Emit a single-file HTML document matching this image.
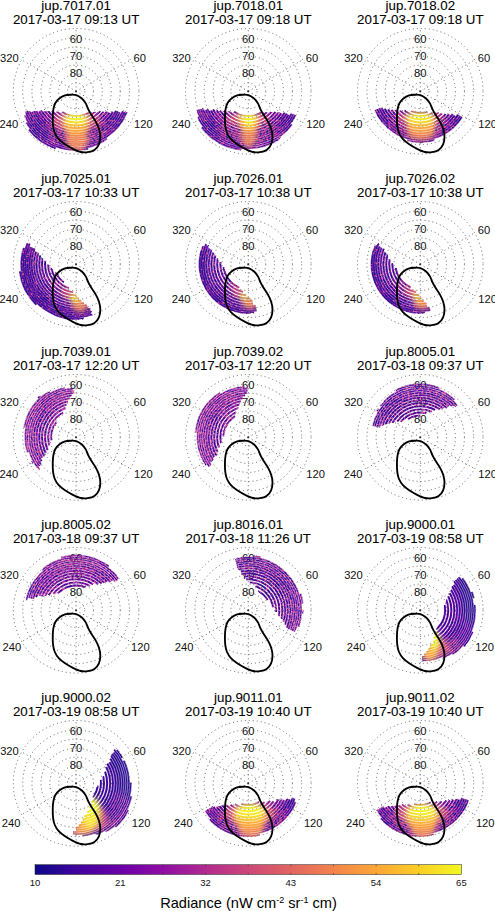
<!DOCTYPE html><html><head><meta charset="utf-8"><style>
html,body{margin:0;padding:0;background:#fff;}
svg{display:block;font-family:"Liberation Sans",sans-serif;}
.grid circle,.grid line{fill:none;stroke:#666;stroke-width:1;stroke-dasharray:1 3;}
.lab text{font-size:11.2px;fill:#111;}
.tt{font-size:13.3px;text-anchor:middle;fill:#000;stroke:#000;stroke-width:0.08px;}
.cbl{font-size:9.5px;text-anchor:middle;fill:#111;}
.cbt{font-size:14.6px;text-anchor:middle;fill:#000;}
</style></head><body>
<svg width="495" height="911" viewBox="0 0 495 911">
<defs>
<filter id="nzB" x="0" y="0" width="1" height="1" color-interpolation-filters="sRGB"><feTurbulence type="fractalNoise" baseFrequency="0.45" numOctaves="2" seed="3"/><feColorMatrix type="matrix" values="0 0 0 0 0.16  0 0 0 0 0.03  0 0 0 0 0.55  5 0 0 0 -2.2"/></filter>
<filter id="nzM" x="0" y="0" width="1" height="1" color-interpolation-filters="sRGB"><feTurbulence type="fractalNoise" baseFrequency="0.45" numOctaves="2" seed="11"/><feColorMatrix type="matrix" values="0 0 0 0 0.85  0 0 0 0 0.28  0 0 0 0 0.5  5 0 0 0 -2.9"/></filter>
<filter id="nzP" x="0" y="0" width="1" height="1" color-interpolation-filters="sRGB"><feTurbulence type="fractalNoise" baseFrequency="0.5" numOctaves="2" seed="23"/><feColorMatrix type="matrix" values="0 0 0 0 0.8  0 0 0 0 0.27  0 0 0 0 0.65  5 0 0 0 -2.35"/></filter>
<filter id="bl" x="-50%" y="-50%" width="200%" height="200%"><feGaussianBlur stdDeviation="2.5"/></filter></defs>
<rect width="495" height="911" fill="#fff"/>
<g class="grid"><circle cx="76.10" cy="91.30" r="8.70"/><circle cx="76.10" cy="91.30" r="17.43"/><circle cx="76.10" cy="91.30" r="26.22"/><circle cx="76.10" cy="91.30" r="35.12"/><circle cx="76.10" cy="91.30" r="44.16"/><circle cx="76.10" cy="91.30" r="53.37"/><circle cx="76.10" cy="91.30" r="62.80"/><line x1="76.10" y1="91.30" x2="76.10" y2="28.50"/><line x1="76.10" y1="91.30" x2="130.49" y2="59.90"/><line x1="76.10" y1="91.30" x2="130.49" y2="122.70"/><line x1="76.10" y1="91.30" x2="76.10" y2="154.10"/><line x1="76.10" y1="91.30" x2="21.71" y2="122.70"/><line x1="76.10" y1="91.30" x2="21.71" y2="59.90"/></g>
<circle cx="76.10" cy="91.30" r="0.9" fill="#333"/>
<g class="lab">
<text x="76.10" y="43.20" text-anchor="middle">60</text>
<text x="76.10" y="60.10" text-anchor="middle">70</text>
<text x="76.10" y="77.20" text-anchor="middle">80</text>
<text x="133.60" y="61.70" text-anchor="start">60</text>
<text x="134.00" y="128.30" text-anchor="start">120</text>
<text x="18.20" y="128.30" text-anchor="end">240</text>
<text x="18.60" y="61.70" text-anchor="end">320</text>
</g>
<clipPath id="c0"><path d="M90.5,113.4A26.4,26.4 0 0 1 61.5,113.3L63.2,110.7A23.3,23.3 0 0 0 88.8,110.8ZM96.4,112.7A29.5,29.5 0 0 1 55.6,112.5L57.8,110.3A26.4,26.4 0 0 0 94.3,110.4ZM101.3,112.0A32.6,32.6 0 0 1 50.8,111.8L53.2,109.9A29.5,29.5 0 0 0 98.9,110.1ZM104.9,112.2A35.5,35.5 0 0 1 47.2,111.9L49.6,110.2A32.6,32.6 0 0 0 102.5,110.5ZM108.4,111.9A38.3,38.3 0 0 1 43.6,111.6L46.0,110.1A35.5,35.5 0 0 0 106.1,110.4ZM110.6,113.3A40.9,40.9 0 0 1 40.2,110.8L42.4,109.6A38.3,38.3 0 0 0 108.4,111.9ZM114.0,112.3A43.3,43.3 0 0 1 38.0,112.0L40.2,110.8A40.9,40.9 0 0 0 111.9,111.1ZM117.3,110.9A45.6,45.6 0 0 1 34.8,110.6L36.8,109.6A43.3,43.3 0 0 0 115.2,110.0ZM119.2,111.9A47.8,47.8 0 0 1 32.8,111.5L34.8,110.6A45.6,45.6 0 0 0 117.3,110.9ZM121.0,112.7A49.8,49.8 0 0 1 31.0,112.3L32.8,111.5A47.8,47.8 0 0 0 119.2,111.9ZM124.1,110.7A51.8,51.8 0 0 1 27.9,110.3L29.8,109.5A49.8,49.8 0 0 0 122.3,109.9ZM126.0,111.4A53.8,53.8 0 0 1 26.1,111.0L27.9,110.3A51.8,51.8 0 0 0 124.1,110.7ZM127.8,112.2A55.8,55.8 0 0 1 24.2,111.7L26.1,111.0A53.8,53.8 0 0 0 126.0,111.4ZM107.6,139.8A57.8,57.8 0 0 1 23.7,115.7L25.6,114.9A55.8,55.8 0 0 0 106.5,138.1ZM88.5,149.8A59.8,59.8 0 0 1 25.4,123.0L27.1,121.9A57.8,57.8 0 0 0 88.1,147.8ZM55.5,149.5A61.8,61.8 0 0 1 28.1,130.2L29.6,128.9A59.8,59.8 0 0 0 56.1,147.6Z"/></clipPath>
<mask id="m0" maskUnits="userSpaceOnUse" x="23.3" y="108.9" width="106.0" height="44.1"><rect x="23.3" y="108.9" width="106.0" height="44.1" fill="#fff"/><g fill="none" stroke="#181818"><circle cx="76.10" cy="91.30" r="14.00" stroke-width="1.20"/><circle cx="76.10" cy="91.30" r="17.10" stroke-width="1.20"/><circle cx="76.10" cy="91.30" r="20.20" stroke-width="1.20"/><circle cx="76.10" cy="91.30" r="23.30" stroke-width="1.20"/><circle cx="76.10" cy="91.30" r="26.40" stroke-width="1.20"/><circle cx="76.10" cy="91.30" r="29.50" stroke-width="1.20"/><circle cx="76.10" cy="91.30" r="32.60" stroke-width="1.04"/><circle cx="76.10" cy="91.30" r="35.54" stroke-width="0.86"/><circle cx="76.10" cy="91.30" r="38.30" stroke-width="0.69"/><circle cx="76.10" cy="91.30" r="40.90" stroke-width="0.53"/><circle cx="76.10" cy="91.30" r="43.33" stroke-width="0.39"/><circle cx="76.10" cy="91.30" r="45.61" stroke-width="0.35"/><circle cx="76.10" cy="91.30" r="47.76" stroke-width="0.35"/><circle cx="76.10" cy="91.30" r="49.78" stroke-width="0.35"/><circle cx="76.10" cy="91.30" r="51.78" stroke-width="0.35"/><circle cx="76.10" cy="91.30" r="53.78" stroke-width="0.35"/><circle cx="76.10" cy="91.30" r="55.78" stroke-width="0.35"/><circle cx="76.10" cy="91.30" r="57.78" stroke-width="0.35"/><circle cx="76.10" cy="91.30" r="59.78" stroke-width="0.35"/><circle cx="76.10" cy="91.30" r="61.78" stroke-width="0.35"/><circle cx="76.10" cy="91.30" r="63.78" stroke-width="0.35"/><circle cx="76.10" cy="91.30" r="65.78" stroke-width="0.35"/><circle cx="76.10" cy="91.30" r="67.78" stroke-width="0.35"/><circle cx="76.10" cy="91.30" r="69.78" stroke-width="0.35"/></g></mask>
<g clip-path="url(#c0)"><g mask="url(#m0)">
<polygon points="25.5,111.2 40.0,111.0 55.0,111.6 66.0,112.8 76.0,113.6 86.0,112.6 100.6,111.5 111.5,111.5 122.4,110.9 127.3,112.7 124.8,118.2 120.0,125.5 113.9,132.7 105.5,140.0 95.8,146.1 86.1,149.7 76.0,151.0 67.6,150.7 57.0,149.0 47.9,146.0 40.0,142.5 34.7,138.2 30.0,132.0 27.5,126.3 25.3,118.0" fill="#8f0da4"/>
<g filter="url(#bl)">
<ellipse cx="38.0" cy="132.0" rx="14.0" ry="12.0" fill="#41049d" opacity="0.80"/>
<ellipse cx="116.0" cy="122.0" rx="11.0" ry="10.0" fill="#41049d" opacity="0.70"/>
<ellipse cx="60.0" cy="147.0" rx="16.0" ry="5.0" fill="#6a00a8" opacity="0.70"/>
<ellipse cx="98.0" cy="144.0" rx="10.0" ry="6.0" fill="#6a00a8" opacity="0.70"/>
<ellipse cx="76.0" cy="128.0" rx="30.0" ry="16.0" fill="#b12a90" opacity="0.90"/>
</g>
<rect x="23.3" y="108.9" width="106.0" height="44.1" filter="url(#nzB)"/>
<rect x="23.3" y="108.9" width="106.0" height="44.1" filter="url(#nzM)"/>
<g filter="url(#bl)">
<ellipse cx="76.0" cy="121.0" rx="24.0" ry="9.0" fill="#d9506e" opacity="0.90"/>
<ellipse cx="77.0" cy="139.0" rx="11.0" ry="12.0" fill="#f2844b" opacity="0.95"/>
<ellipse cx="76.0" cy="126.0" rx="13.0" ry="9.0" fill="#fca636" opacity="1.00"/>
<ellipse cx="76.0" cy="119.0" rx="12.0" ry="6.0" fill="#f6e52c" opacity="1.00"/>
<ellipse cx="75.0" cy="117.0" rx="9.0" ry="4.0" fill="#f0f921" opacity="1.00"/>
</g>
</g></g>
<path d="M70.60,94.75 C68.72,94.80 66.88,94.77 65.00,95.40 C63.12,96.02 60.91,97.23 59.30,98.50 C57.69,99.77 56.33,101.22 55.35,103.00 C54.37,104.78 53.83,106.84 53.40,109.20 C52.97,111.56 52.80,114.32 52.75,117.15 C52.70,119.98 52.76,123.56 53.10,126.20 C53.44,128.84 53.86,130.83 54.80,133.00 C55.74,135.17 57.05,137.32 58.75,139.20 C60.45,141.08 62.64,142.70 65.00,144.30 C67.36,145.90 70.27,147.52 72.90,148.80 C75.53,150.08 78.35,151.43 80.80,152.00 C83.25,152.57 85.33,152.53 87.60,152.20 C89.87,151.87 92.52,151.32 94.40,150.00 C96.28,148.68 97.92,146.57 98.90,144.30 C99.88,142.03 100.30,139.03 100.30,136.40 C100.30,133.77 99.70,131.05 98.90,128.50 C98.10,125.95 96.82,123.47 95.50,121.10 C94.18,118.73 92.22,116.28 91.00,114.30 C89.78,112.32 89.05,110.98 88.20,109.20 C87.35,107.42 86.95,105.38 85.90,103.60 C84.85,101.82 83.50,99.92 81.90,98.50 C80.30,97.08 78.18,95.72 76.30,95.10 C74.42,94.47 72.48,94.70 70.60,94.75Z" fill="none" stroke="#000" stroke-width="1.85"/>
<text class="tt" x="76.10" y="9.70">jup.7017.01</text>
<text class="tt" x="76.10" y="24.40">2017-03-17 09:13 UT</text>
<g class="grid"><circle cx="248.30" cy="91.30" r="8.70"/><circle cx="248.30" cy="91.30" r="17.43"/><circle cx="248.30" cy="91.30" r="26.22"/><circle cx="248.30" cy="91.30" r="35.12"/><circle cx="248.30" cy="91.30" r="44.16"/><circle cx="248.30" cy="91.30" r="53.37"/><circle cx="248.30" cy="91.30" r="62.80"/><line x1="248.30" y1="91.30" x2="248.30" y2="28.50"/><line x1="248.30" y1="91.30" x2="302.69" y2="59.90"/><line x1="248.30" y1="91.30" x2="302.69" y2="122.70"/><line x1="248.30" y1="91.30" x2="248.30" y2="154.10"/><line x1="248.30" y1="91.30" x2="193.91" y2="122.70"/><line x1="248.30" y1="91.30" x2="193.91" y2="59.90"/></g>
<circle cx="248.30" cy="91.30" r="0.9" fill="#333"/>
<g class="lab">
<text x="248.30" y="43.20" text-anchor="middle">60</text>
<text x="248.30" y="60.10" text-anchor="middle">70</text>
<text x="248.30" y="77.20" text-anchor="middle">80</text>
<text x="305.80" y="61.70" text-anchor="start">60</text>
<text x="306.20" y="128.30" text-anchor="start">120</text>
<text x="190.40" y="128.30" text-anchor="end">240</text>
<text x="190.80" y="61.70" text-anchor="end">320</text>
</g>
<clipPath id="c1"><path d="M262.2,113.8A26.4,26.4 0 0 1 233.2,113.0L235.0,110.4A23.3,23.3 0 0 0 260.5,111.1ZM268.1,113.2A29.5,29.5 0 0 1 227.3,112.1L229.5,109.9A26.4,26.4 0 0 0 266.0,110.9ZM273.0,112.6A32.6,32.6 0 0 1 222.5,111.2L225.0,109.3A29.5,29.5 0 0 0 270.6,110.6ZM276.6,112.8A35.5,35.5 0 0 1 218.9,111.3L221.3,109.6A32.6,32.6 0 0 0 274.2,111.1ZM280.1,112.6A38.3,38.3 0 0 1 215.4,110.9L217.7,109.4A35.5,35.5 0 0 0 277.8,111.1ZM282.3,114.0A40.9,40.9 0 0 1 211.9,110.0L214.2,108.8A38.3,38.3 0 0 0 280.1,112.6ZM285.7,113.2A43.3,43.3 0 0 1 209.8,111.1L211.9,110.0A40.9,40.9 0 0 0 283.6,111.9ZM287.7,114.3A45.6,45.6 0 0 1 206.5,109.6L208.6,108.7A43.3,43.3 0 0 0 285.7,113.2ZM289.5,115.4A47.8,47.8 0 0 1 204.6,110.5L206.5,109.6A45.6,45.6 0 0 0 287.7,114.3ZM292.7,113.7A49.8,49.8 0 0 1 201.6,108.5L203.5,107.8A47.8,47.8 0 0 0 290.9,112.8ZM294.5,114.6A51.8,51.8 0 0 1 199.7,109.2L201.6,108.5A49.8,49.8 0 0 0 292.7,113.7ZM296.3,115.5A53.8,53.8 0 0 1 197.8,109.9L199.7,109.2A51.8,51.8 0 0 0 294.5,114.6ZM292.7,125.1A55.8,55.8 0 0 1 196.0,110.6L197.8,109.9A53.8,53.8 0 0 0 291.1,123.9ZM281.6,138.5A57.8,57.8 0 0 1 196.9,117.7L198.7,116.8A55.8,55.8 0 0 0 280.5,136.9ZM241.2,150.7A59.8,59.8 0 0 1 201.0,127.9L202.6,126.6A57.8,57.8 0 0 0 241.5,148.7Z"/></clipPath>
<mask id="m1" maskUnits="userSpaceOnUse" x="194.8" y="106.5" width="103.9" height="45.2"><rect x="194.8" y="106.5" width="103.9" height="45.2" fill="#fff"/><g fill="none" stroke="#181818"><circle cx="248.30" cy="91.30" r="14.00" stroke-width="1.20"/><circle cx="248.30" cy="91.30" r="17.10" stroke-width="1.20"/><circle cx="248.30" cy="91.30" r="20.20" stroke-width="1.20"/><circle cx="248.30" cy="91.30" r="23.30" stroke-width="1.20"/><circle cx="248.30" cy="91.30" r="26.40" stroke-width="1.20"/><circle cx="248.30" cy="91.30" r="29.50" stroke-width="1.20"/><circle cx="248.30" cy="91.30" r="32.60" stroke-width="1.04"/><circle cx="248.30" cy="91.30" r="35.54" stroke-width="0.86"/><circle cx="248.30" cy="91.30" r="38.30" stroke-width="0.69"/><circle cx="248.30" cy="91.30" r="40.90" stroke-width="0.53"/><circle cx="248.30" cy="91.30" r="43.33" stroke-width="0.39"/><circle cx="248.30" cy="91.30" r="45.61" stroke-width="0.35"/><circle cx="248.30" cy="91.30" r="47.76" stroke-width="0.35"/><circle cx="248.30" cy="91.30" r="49.78" stroke-width="0.35"/><circle cx="248.30" cy="91.30" r="51.78" stroke-width="0.35"/><circle cx="248.30" cy="91.30" r="53.78" stroke-width="0.35"/><circle cx="248.30" cy="91.30" r="55.78" stroke-width="0.35"/><circle cx="248.30" cy="91.30" r="57.78" stroke-width="0.35"/><circle cx="248.30" cy="91.30" r="59.78" stroke-width="0.35"/><circle cx="248.30" cy="91.30" r="61.78" stroke-width="0.35"/><circle cx="248.30" cy="91.30" r="63.78" stroke-width="0.35"/><circle cx="248.30" cy="91.30" r="65.78" stroke-width="0.35"/><circle cx="248.30" cy="91.30" r="67.78" stroke-width="0.35"/><circle cx="248.30" cy="91.30" r="69.78" stroke-width="0.35"/></g></mask>
<g clip-path="url(#c1)"><g mask="url(#m1)">
<polygon points="196.8,108.5 209.4,109.7 223.9,110.9 236.1,111.5 247.0,114.0 260.3,112.1 274.8,112.1 287.0,113.3 296.7,114.5 295.5,118.2 289.4,129.1 279.7,138.8 267.6,146.1 253.0,149.7 238.5,149.7 223.9,146.1 211.8,138.8 202.1,127.9 197.3,117.0" fill="#8f0da4"/>
<g filter="url(#bl)">
<ellipse cx="208.0" cy="130.0" rx="12.0" ry="12.0" fill="#41049d" opacity="0.80"/>
<ellipse cx="288.0" cy="122.0" rx="10.0" ry="10.0" fill="#41049d" opacity="0.70"/>
<ellipse cx="230.0" cy="147.0" rx="15.0" ry="5.0" fill="#6a00a8" opacity="0.70"/>
<ellipse cx="270.0" cy="144.0" rx="10.0" ry="6.0" fill="#6a00a8" opacity="0.70"/>
<ellipse cx="248.0" cy="128.0" rx="30.0" ry="14.0" fill="#b12a90" opacity="0.90"/>
</g>
<rect x="194.8" y="106.5" width="103.9" height="45.2" filter="url(#nzB)"/>
<rect x="194.8" y="106.5" width="103.9" height="45.2" filter="url(#nzM)"/>
<g filter="url(#bl)">
<ellipse cx="248.0" cy="119.0" rx="22.0" ry="7.0" fill="#d9506e" opacity="0.80"/>
<ellipse cx="249.0" cy="136.0" rx="8.0" ry="11.0" fill="#f2844b" opacity="0.90"/>
<ellipse cx="249.0" cy="124.0" rx="10.0" ry="8.0" fill="#fca636" opacity="1.00"/>
<ellipse cx="248.0" cy="117.0" rx="10.0" ry="4.0" fill="#f6e52c" opacity="1.00"/>
<ellipse cx="249.0" cy="121.0" rx="4.0" ry="6.0" fill="#f0f921" opacity="1.00"/>
</g>
</g></g>
<path d="M242.80,94.75 C240.92,94.80 239.08,94.77 237.20,95.40 C235.32,96.02 233.11,97.23 231.50,98.50 C229.89,99.77 228.53,101.22 227.55,103.00 C226.57,104.78 226.03,106.84 225.60,109.20 C225.17,111.56 225.00,114.32 224.95,117.15 C224.90,119.98 224.96,123.56 225.30,126.20 C225.64,128.84 226.06,130.83 227.00,133.00 C227.94,135.17 229.25,137.32 230.95,139.20 C232.65,141.08 234.84,142.70 237.20,144.30 C239.56,145.90 242.47,147.52 245.10,148.80 C247.73,150.08 250.55,151.43 253.00,152.00 C255.45,152.57 257.53,152.53 259.80,152.20 C262.07,151.87 264.72,151.32 266.60,150.00 C268.48,148.68 270.12,146.57 271.10,144.30 C272.08,142.03 272.50,139.03 272.50,136.40 C272.50,133.77 271.90,131.05 271.10,128.50 C270.30,125.95 269.02,123.47 267.70,121.10 C266.38,118.73 264.42,116.28 263.20,114.30 C261.98,112.32 261.25,110.98 260.40,109.20 C259.55,107.42 259.15,105.38 258.10,103.60 C257.05,101.82 255.70,99.92 254.10,98.50 C252.50,97.08 250.38,95.72 248.50,95.10 C246.62,94.47 244.68,94.70 242.80,94.75Z" fill="none" stroke="#000" stroke-width="1.85"/>
<text class="tt" x="248.30" y="9.70">jup.7018.01</text>
<text class="tt" x="248.30" y="24.40">2017-03-17 09:18 UT</text>
<g class="grid"><circle cx="420.30" cy="91.30" r="8.70"/><circle cx="420.30" cy="91.30" r="17.43"/><circle cx="420.30" cy="91.30" r="26.22"/><circle cx="420.30" cy="91.30" r="35.12"/><circle cx="420.30" cy="91.30" r="44.16"/><circle cx="420.30" cy="91.30" r="53.37"/><circle cx="420.30" cy="91.30" r="62.80"/><line x1="420.30" y1="91.30" x2="420.30" y2="28.50"/><line x1="420.30" y1="91.30" x2="474.69" y2="59.90"/><line x1="420.30" y1="91.30" x2="474.69" y2="122.70"/><line x1="420.30" y1="91.30" x2="420.30" y2="154.10"/><line x1="420.30" y1="91.30" x2="365.91" y2="122.70"/><line x1="420.30" y1="91.30" x2="365.91" y2="59.90"/></g>
<circle cx="420.30" cy="91.30" r="0.9" fill="#333"/>
<g class="lab">
<text x="420.30" y="43.20" text-anchor="middle">60</text>
<text x="420.30" y="60.10" text-anchor="middle">70</text>
<text x="420.30" y="77.20" text-anchor="middle">80</text>
<text x="477.80" y="61.70" text-anchor="start">60</text>
<text x="478.20" y="128.30" text-anchor="start">120</text>
<text x="362.40" y="128.30" text-anchor="end">240</text>
<text x="362.80" y="61.70" text-anchor="end">320</text>
</g>
<clipPath id="c2"><path d="M428.2,113.2A23.3,23.3 0 0 1 410.2,112.3L411.6,109.5A20.2,20.2 0 0 0 427.2,110.3ZM433.7,114.1A26.4,26.4 0 0 1 403.5,111.6L405.4,109.3A23.3,23.3 0 0 0 432.1,111.4ZM439.6,113.6A29.5,29.5 0 0 1 398.9,111.6L401.1,109.4A26.4,26.4 0 0 0 437.6,111.3ZM443.1,114.6A32.6,32.6 0 0 1 394.1,110.6L396.6,108.8A29.5,29.5 0 0 0 440.9,112.4ZM446.7,115.1A35.5,35.5 0 0 1 390.5,110.6L392.9,109.0A32.6,32.6 0 0 0 444.5,113.2ZM450.2,115.2A38.3,38.3 0 0 1 386.9,110.1L389.3,108.7A35.5,35.5 0 0 0 448.1,113.5ZM453.8,114.8A40.9,40.9 0 0 1 383.5,109.2L385.8,108.0A38.3,38.3 0 0 0 451.6,113.3ZM455.7,116.2A43.3,43.3 0 0 1 380.2,107.8L382.5,106.9A40.9,40.9 0 0 0 453.8,114.8ZM459.2,115.2A45.6,45.6 0 0 1 378.1,108.7L380.2,107.8A43.3,43.3 0 0 0 457.2,114.0ZM461.0,116.3A47.8,47.8 0 0 1 376.1,109.5L378.1,108.7A45.6,45.6 0 0 0 459.2,115.2ZM462.7,117.4A49.8,49.8 0 0 1 374.3,110.3L376.1,109.5A47.8,47.8 0 0 0 461.0,116.3ZM434.9,141.0A51.8,51.8 0 0 1 406.8,141.3L407.3,139.4A49.8,49.8 0 0 0 434.4,139.0Z"/></clipPath>
<mask id="m2" maskUnits="userSpaceOnUse" x="373.0" y="105.8" width="91.8" height="38.9"><rect x="373.0" y="105.8" width="91.8" height="38.9" fill="#fff"/><g fill="none" stroke="#181818"><circle cx="420.30" cy="91.30" r="14.00" stroke-width="1.20"/><circle cx="420.30" cy="91.30" r="17.10" stroke-width="1.20"/><circle cx="420.30" cy="91.30" r="20.20" stroke-width="1.20"/><circle cx="420.30" cy="91.30" r="23.30" stroke-width="1.20"/><circle cx="420.30" cy="91.30" r="26.40" stroke-width="1.20"/><circle cx="420.30" cy="91.30" r="29.50" stroke-width="1.20"/><circle cx="420.30" cy="91.30" r="32.60" stroke-width="1.04"/><circle cx="420.30" cy="91.30" r="35.54" stroke-width="0.86"/><circle cx="420.30" cy="91.30" r="38.30" stroke-width="0.69"/><circle cx="420.30" cy="91.30" r="40.90" stroke-width="0.53"/><circle cx="420.30" cy="91.30" r="43.33" stroke-width="0.39"/><circle cx="420.30" cy="91.30" r="45.61" stroke-width="0.35"/><circle cx="420.30" cy="91.30" r="47.76" stroke-width="0.35"/><circle cx="420.30" cy="91.30" r="49.78" stroke-width="0.35"/><circle cx="420.30" cy="91.30" r="51.78" stroke-width="0.35"/><circle cx="420.30" cy="91.30" r="53.78" stroke-width="0.35"/><circle cx="420.30" cy="91.30" r="55.78" stroke-width="0.35"/><circle cx="420.30" cy="91.30" r="57.78" stroke-width="0.35"/><circle cx="420.30" cy="91.30" r="59.78" stroke-width="0.35"/><circle cx="420.30" cy="91.30" r="61.78" stroke-width="0.35"/><circle cx="420.30" cy="91.30" r="63.78" stroke-width="0.35"/><circle cx="420.30" cy="91.30" r="65.78" stroke-width="0.35"/><circle cx="420.30" cy="91.30" r="67.78" stroke-width="0.35"/><circle cx="420.30" cy="91.30" r="69.78" stroke-width="0.35"/></g></mask>
<g clip-path="url(#c2)"><g mask="url(#m2)">
<polygon points="375.0,107.8 387.2,108.9 398.3,110.0 410.6,111.1 420.6,111.1 431.7,112.2 442.8,113.3 453.9,114.4 462.8,115.6 461.7,120.0 453.9,128.9 442.8,136.7 431.7,141.1 420.6,142.7 409.4,141.1 398.3,136.7 387.2,127.8 378.3,117.8 375.0,111.1" fill="#8f0da4"/>
<g filter="url(#bl)">
<ellipse cx="382.0" cy="115.0" rx="9.0" ry="8.0" fill="#41049d" opacity="0.70"/>
<ellipse cx="458.0" cy="118.0" rx="8.0" ry="7.0" fill="#41049d" opacity="0.80"/>
<ellipse cx="420.0" cy="141.0" rx="18.0" ry="4.0" fill="#6a00a8" opacity="0.60"/>
<ellipse cx="420.0" cy="126.0" rx="28.0" ry="12.0" fill="#b12a90" opacity="0.90"/>
</g>
<rect x="373.0" y="105.8" width="91.8" height="38.9" filter="url(#nzB)"/>
<rect x="373.0" y="105.8" width="91.8" height="38.9" filter="url(#nzM)"/>
<g filter="url(#bl)">
<ellipse cx="420.0" cy="118.0" rx="24.0" ry="6.0" fill="#d9506e" opacity="0.85"/>
<ellipse cx="421.0" cy="132.0" rx="14.0" ry="8.0" fill="#f2844b" opacity="0.95"/>
<ellipse cx="421.0" cy="125.0" rx="15.0" ry="7.0" fill="#fca636" opacity="1.00"/>
<ellipse cx="420.0" cy="118.0" rx="14.0" ry="6.0" fill="#f6e52c" opacity="1.00"/>
<ellipse cx="420.0" cy="116.0" rx="10.0" ry="3.0" fill="#f0f921" opacity="1.00"/>
</g>
</g></g>
<path d="M414.80,94.75 C412.92,94.80 411.08,94.77 409.20,95.40 C407.32,96.02 405.11,97.23 403.50,98.50 C401.89,99.77 400.53,101.22 399.55,103.00 C398.57,104.78 398.03,106.84 397.60,109.20 C397.17,111.56 397.00,114.32 396.95,117.15 C396.90,119.98 396.96,123.56 397.30,126.20 C397.64,128.84 398.06,130.83 399.00,133.00 C399.94,135.17 401.25,137.32 402.95,139.20 C404.65,141.08 406.84,142.70 409.20,144.30 C411.56,145.90 414.47,147.52 417.10,148.80 C419.73,150.08 422.55,151.43 425.00,152.00 C427.45,152.57 429.53,152.53 431.80,152.20 C434.07,151.87 436.72,151.32 438.60,150.00 C440.48,148.68 442.12,146.57 443.10,144.30 C444.08,142.03 444.50,139.03 444.50,136.40 C444.50,133.77 443.90,131.05 443.10,128.50 C442.30,125.95 441.02,123.47 439.70,121.10 C438.38,118.73 436.42,116.28 435.20,114.30 C433.98,112.32 433.25,110.98 432.40,109.20 C431.55,107.42 431.15,105.38 430.10,103.60 C429.05,101.82 427.70,99.92 426.10,98.50 C424.50,97.08 422.38,95.72 420.50,95.10 C418.62,94.47 416.68,94.70 414.80,94.75Z" fill="none" stroke="#000" stroke-width="1.85"/>
<text class="tt" x="420.30" y="9.70">jup.7018.02</text>
<text class="tt" x="420.30" y="24.40">2017-03-17 09:18 UT</text>
<g class="grid"><circle cx="76.10" cy="264.30" r="8.70"/><circle cx="76.10" cy="264.30" r="17.43"/><circle cx="76.10" cy="264.30" r="26.22"/><circle cx="76.10" cy="264.30" r="35.12"/><circle cx="76.10" cy="264.30" r="44.16"/><circle cx="76.10" cy="264.30" r="53.37"/><circle cx="76.10" cy="264.30" r="62.80"/><line x1="76.10" y1="264.30" x2="76.10" y2="201.50"/><line x1="76.10" y1="264.30" x2="130.49" y2="232.90"/><line x1="76.10" y1="264.30" x2="130.49" y2="295.70"/><line x1="76.10" y1="264.30" x2="76.10" y2="327.10"/><line x1="76.10" y1="264.30" x2="21.71" y2="295.70"/><line x1="76.10" y1="264.30" x2="21.71" y2="232.90"/></g>
<circle cx="76.10" cy="264.30" r="0.9" fill="#333"/>
<g class="lab">
<text x="76.10" y="216.20" text-anchor="middle">60</text>
<text x="76.10" y="233.10" text-anchor="middle">70</text>
<text x="76.10" y="250.20" text-anchor="middle">80</text>
<text x="133.60" y="233.70" text-anchor="start">60</text>
<text x="134.00" y="302.90" text-anchor="start">120</text>
<text x="18.20" y="302.90" text-anchor="end">240</text>
<text x="18.60" y="233.70" text-anchor="end">320</text>
</g>
<clipPath id="c3"><path d="M63.1,283.6A23.3,23.3 0 0 1 54.4,272.7L57.3,271.6A20.2,20.2 0 0 0 64.8,281.1ZM68.6,289.6A26.4,26.4 0 0 1 49.9,267.6L53.0,267.2A23.3,23.3 0 0 0 69.5,286.7ZM73.1,293.6A29.5,29.5 0 0 1 46.6,264.4L49.7,264.3A26.4,26.4 0 0 0 73.4,290.6ZM76.7,296.9A32.6,32.6 0 0 1 43.7,260.4L46.8,260.8A29.5,29.5 0 0 0 76.7,293.8ZM79.0,299.7A35.5,35.5 0 0 1 41.1,257.9L44.0,258.4A32.6,32.6 0 0 0 78.7,296.8ZM81.5,302.2A38.3,38.3 0 0 1 38.9,255.1L41.6,255.8A35.5,35.5 0 0 0 81.1,299.5ZM84.3,304.4A40.9,40.9 0 0 1 37.1,252.1L39.6,252.8A38.3,38.3 0 0 0 83.8,301.8ZM87.4,306.1A43.3,43.3 0 0 1 34.8,251.3L37.1,252.1A40.9,40.9 0 0 0 86.8,303.8ZM88.0,308.3A45.6,45.6 0 0 1 33.5,248.0L35.6,248.8A43.3,43.3 0 0 0 87.4,306.1ZM91.3,309.6A47.8,47.8 0 0 1 31.5,247.3L33.5,248.0A45.6,45.6 0 0 0 90.6,307.5ZM92.0,311.5A49.8,49.8 0 0 1 29.6,246.5L31.5,247.3A47.8,47.8 0 0 0 91.3,309.6ZM92.6,313.4A51.8,51.8 0 0 1 28.9,242.9L30.8,243.7A49.8,49.8 0 0 0 92.0,311.5ZM93.3,315.3A53.8,53.8 0 0 1 27.1,242.1L28.9,242.9A51.8,51.8 0 0 0 92.6,313.4ZM84.0,319.5A55.8,55.8 0 0 1 22.9,247.6L24.8,248.2A53.8,53.8 0 0 0 83.7,317.5ZM35.7,305.6A57.8,57.8 0 0 1 18.8,271.4L20.8,271.2A55.8,55.8 0 0 0 37.1,304.1Z"/></clipPath>
<mask id="m3" maskUnits="userSpaceOnUse" x="18.0" y="240.7" width="75.8" height="81.3"><rect x="18.0" y="240.7" width="75.8" height="81.3" fill="#fff"/><g fill="none" stroke="#181818"><circle cx="76.10" cy="264.30" r="14.00" stroke-width="1.20"/><circle cx="76.10" cy="264.30" r="17.10" stroke-width="1.20"/><circle cx="76.10" cy="264.30" r="20.20" stroke-width="1.20"/><circle cx="76.10" cy="264.30" r="23.30" stroke-width="1.20"/><circle cx="76.10" cy="264.30" r="26.40" stroke-width="1.20"/><circle cx="76.10" cy="264.30" r="29.50" stroke-width="1.20"/><circle cx="76.10" cy="264.30" r="32.60" stroke-width="1.04"/><circle cx="76.10" cy="264.30" r="35.54" stroke-width="0.86"/><circle cx="76.10" cy="264.30" r="38.30" stroke-width="0.69"/><circle cx="76.10" cy="264.30" r="40.90" stroke-width="0.53"/><circle cx="76.10" cy="264.30" r="43.33" stroke-width="0.39"/><circle cx="76.10" cy="264.30" r="45.61" stroke-width="0.25"/><circle cx="76.10" cy="264.30" r="47.76" stroke-width="0.20"/><circle cx="76.10" cy="264.30" r="49.78" stroke-width="0.20"/><circle cx="76.10" cy="264.30" r="51.78" stroke-width="0.20"/><circle cx="76.10" cy="264.30" r="53.78" stroke-width="0.20"/><circle cx="76.10" cy="264.30" r="55.78" stroke-width="0.20"/><circle cx="76.10" cy="264.30" r="57.78" stroke-width="0.20"/><circle cx="76.10" cy="264.30" r="59.78" stroke-width="0.20"/><circle cx="76.10" cy="264.30" r="61.78" stroke-width="0.20"/><circle cx="76.10" cy="264.30" r="63.78" stroke-width="0.20"/><circle cx="76.10" cy="264.30" r="65.78" stroke-width="0.20"/><circle cx="76.10" cy="264.30" r="67.78" stroke-width="0.20"/><circle cx="76.10" cy="264.30" r="69.78" stroke-width="0.20"/></g></mask>
<g clip-path="url(#c3)"><g mask="url(#m3)">
<polygon points="26.4,242.7 33.6,247.3 40.0,255.5 48.2,264.5 56.4,272.7 64.5,282.7 72.7,291.8 80.9,300.0 90.0,308.2 91.8,315.5 82.7,319.1 70.0,320.0 59.1,318.2 46.4,312.7 33.6,302.7 24.5,290.0 20.0,275.5 20.0,262.7 22.7,250.0" fill="#7010a6"/>
<g filter="url(#bl)">
<ellipse cx="24.0" cy="272.0" rx="8.0" ry="26.0" fill="#41049d" opacity="0.90"/>
<ellipse cx="38.0" cy="304.0" rx="12.0" ry="9.0" fill="#41049d" opacity="0.90"/>
<ellipse cx="62.0" cy="318.0" rx="14.0" ry="5.0" fill="#41049d" opacity="0.80"/>
<ellipse cx="32.0" cy="250.0" rx="6.0" ry="8.0" fill="#8f0da4" opacity="0.60"/>
<ellipse cx="60.0" cy="283.0" rx="10.0" ry="10.0" fill="#b12a90" opacity="0.80"/>
</g>
<rect x="18.0" y="240.7" width="75.8" height="81.3" filter="url(#nzB)"/>
<rect x="18.0" y="240.7" width="75.8" height="81.3" filter="url(#nzM)"/>
<g filter="url(#bl)">
<ellipse cx="70.0" cy="293.0" rx="9.0" ry="7.0" fill="#d9506e" opacity="0.80"/>
<ellipse cx="80.0" cy="305.0" rx="8.0" ry="7.0" fill="#f2844b" opacity="0.90"/>
<ellipse cx="75.0" cy="298.0" rx="5.0" ry="4.0" fill="#f6e52c" opacity="1.00"/>
</g>
</g></g>
<path d="M70.60,267.75 C68.72,267.80 66.88,267.78 65.00,268.40 C63.12,269.03 60.91,270.23 59.30,271.50 C57.69,272.77 56.33,274.22 55.35,276.00 C54.37,277.78 53.83,279.84 53.40,282.20 C52.97,284.56 52.80,287.32 52.75,290.15 C52.70,292.98 52.76,296.56 53.10,299.20 C53.44,301.84 53.86,303.83 54.80,306.00 C55.74,308.17 57.05,310.32 58.75,312.20 C60.45,314.08 62.64,315.70 65.00,317.30 C67.36,318.90 70.27,320.52 72.90,321.80 C75.53,323.08 78.35,324.43 80.80,325.00 C83.25,325.57 85.33,325.53 87.60,325.20 C89.87,324.87 92.52,324.32 94.40,323.00 C96.28,321.68 97.92,319.57 98.90,317.30 C99.88,315.03 100.30,312.03 100.30,309.40 C100.30,306.77 99.70,304.05 98.90,301.50 C98.10,298.95 96.82,296.47 95.50,294.10 C94.18,291.73 92.22,289.28 91.00,287.30 C89.78,285.32 89.05,283.98 88.20,282.20 C87.35,280.42 86.95,278.38 85.90,276.60 C84.85,274.82 83.50,272.92 81.90,271.50 C80.30,270.08 78.18,268.73 76.30,268.10 C74.42,267.48 72.48,267.70 70.60,267.75Z" fill="none" stroke="#000" stroke-width="1.85"/>
<text class="tt" x="76.10" y="182.70">jup.7025.01</text>
<text class="tt" x="76.10" y="197.40">2017-03-17 10:33 UT</text>
<g class="grid"><circle cx="248.30" cy="264.30" r="8.70"/><circle cx="248.30" cy="264.30" r="17.43"/><circle cx="248.30" cy="264.30" r="26.22"/><circle cx="248.30" cy="264.30" r="35.12"/><circle cx="248.30" cy="264.30" r="44.16"/><circle cx="248.30" cy="264.30" r="53.37"/><circle cx="248.30" cy="264.30" r="62.80"/><line x1="248.30" y1="264.30" x2="248.30" y2="201.50"/><line x1="248.30" y1="264.30" x2="302.69" y2="232.90"/><line x1="248.30" y1="264.30" x2="302.69" y2="295.70"/><line x1="248.30" y1="264.30" x2="248.30" y2="327.10"/><line x1="248.30" y1="264.30" x2="193.91" y2="295.70"/><line x1="248.30" y1="264.30" x2="193.91" y2="232.90"/></g>
<circle cx="248.30" cy="264.30" r="0.9" fill="#333"/>
<g class="lab">
<text x="248.30" y="216.20" text-anchor="middle">60</text>
<text x="248.30" y="233.10" text-anchor="middle">70</text>
<text x="248.30" y="250.20" text-anchor="middle">80</text>
<text x="305.80" y="233.70" text-anchor="start">60</text>
<text x="306.20" y="302.90" text-anchor="start">120</text>
<text x="190.40" y="302.90" text-anchor="end">240</text>
<text x="190.80" y="233.70" text-anchor="end">320</text>
</g>
<clipPath id="c4"><path d="M238.8,288.9A26.4,26.4 0 0 1 222.0,267.0L225.1,266.7A23.3,23.3 0 0 0 239.9,286.0ZM242.8,293.3A29.5,29.5 0 0 1 218.9,261.9L222.0,262.1A26.4,26.4 0 0 0 243.4,290.2ZM246.2,296.8A32.6,32.6 0 0 1 216.4,257.7L219.4,258.3A29.5,29.5 0 0 0 246.4,293.7ZM250.3,299.8A35.5,35.5 0 0 1 214.0,255.0L216.8,255.8A32.6,32.6 0 0 0 250.2,296.8ZM252.8,302.3A38.3,38.3 0 0 1 212.0,252.0L214.6,252.9A35.5,35.5 0 0 0 252.5,299.6ZM253.1,304.9A40.9,40.9 0 0 1 210.4,248.8L212.8,249.8A38.3,38.3 0 0 0 252.8,302.3ZM256.0,306.9A43.3,43.3 0 0 1 208.2,247.9L210.4,248.8A40.9,40.9 0 0 0 255.6,304.5ZM256.5,309.2A45.6,45.6 0 0 1 207.2,244.5L209.3,245.5A43.3,43.3 0 0 0 256.0,306.9ZM256.8,311.3A47.8,47.8 0 0 1 205.3,243.6L207.2,244.5A45.6,45.6 0 0 0 256.5,309.2ZM254.2,313.7A49.8,49.8 0 0 1 202.2,245.5L204.1,246.3A47.8,47.8 0 0 0 254.0,311.7Z"/></clipPath>
<mask id="m4" maskUnits="userSpaceOnUse" x="196.2" y="241.6" width="64.9" height="74.0"><rect x="196.2" y="241.6" width="64.9" height="74.0" fill="#fff"/><g fill="none" stroke="#181818"><circle cx="248.30" cy="264.30" r="14.00" stroke-width="1.20"/><circle cx="248.30" cy="264.30" r="17.10" stroke-width="1.20"/><circle cx="248.30" cy="264.30" r="20.20" stroke-width="1.20"/><circle cx="248.30" cy="264.30" r="23.30" stroke-width="1.20"/><circle cx="248.30" cy="264.30" r="26.40" stroke-width="1.20"/><circle cx="248.30" cy="264.30" r="29.50" stroke-width="1.20"/><circle cx="248.30" cy="264.30" r="32.60" stroke-width="1.04"/><circle cx="248.30" cy="264.30" r="35.54" stroke-width="0.86"/><circle cx="248.30" cy="264.30" r="38.30" stroke-width="0.69"/><circle cx="248.30" cy="264.30" r="40.90" stroke-width="0.53"/><circle cx="248.30" cy="264.30" r="43.33" stroke-width="0.39"/><circle cx="248.30" cy="264.30" r="45.61" stroke-width="0.25"/><circle cx="248.30" cy="264.30" r="47.76" stroke-width="0.20"/><circle cx="248.30" cy="264.30" r="49.78" stroke-width="0.20"/><circle cx="248.30" cy="264.30" r="51.78" stroke-width="0.20"/><circle cx="248.30" cy="264.30" r="53.78" stroke-width="0.20"/><circle cx="248.30" cy="264.30" r="55.78" stroke-width="0.20"/><circle cx="248.30" cy="264.30" r="57.78" stroke-width="0.20"/><circle cx="248.30" cy="264.30" r="59.78" stroke-width="0.20"/><circle cx="248.30" cy="264.30" r="61.78" stroke-width="0.20"/><circle cx="248.30" cy="264.30" r="63.78" stroke-width="0.20"/><circle cx="248.30" cy="264.30" r="65.78" stroke-width="0.20"/><circle cx="248.30" cy="264.30" r="67.78" stroke-width="0.20"/><circle cx="248.30" cy="264.30" r="69.78" stroke-width="0.20"/></g></mask>
<g clip-path="url(#c4)"><g mask="url(#m4)">
<polygon points="205.5,243.6 211.8,250.0 221.8,264.5 229.1,275.5 238.2,286.4 247.3,295.5 256.4,306.4 259.1,311.8 249.1,313.6 238.2,312.7 227.3,310.0 216.4,302.7 206.4,291.8 200.0,279.1 198.2,266.4 200.0,253.6 202.7,246.4" fill="#7010a6"/>
<g filter="url(#bl)">
<ellipse cx="201.0" cy="272.0" rx="6.0" ry="24.0" fill="#41049d" opacity="0.90"/>
<ellipse cx="214.0" cy="302.0" rx="10.0" ry="8.0" fill="#41049d" opacity="0.90"/>
<ellipse cx="234.0" cy="313.0" rx="12.0" ry="4.0" fill="#41049d" opacity="0.70"/>
<ellipse cx="232.0" cy="284.0" rx="9.0" ry="9.0" fill="#b12a90" opacity="0.80"/>
</g>
<rect x="196.2" y="241.6" width="64.9" height="74.0" filter="url(#nzB)"/>
<rect x="196.2" y="241.6" width="64.9" height="74.0" filter="url(#nzM)"/>
<g filter="url(#bl)">
<ellipse cx="240.0" cy="292.0" rx="8.0" ry="6.0" fill="#d9506e" opacity="0.80"/>
<ellipse cx="250.0" cy="303.0" rx="8.0" ry="6.0" fill="#f2844b" opacity="0.90"/>
<ellipse cx="244.0" cy="297.0" rx="4.0" ry="3.0" fill="#f6e52c" opacity="1.00"/>
</g>
</g></g>
<path d="M242.80,267.75 C240.92,267.80 239.08,267.78 237.20,268.40 C235.32,269.03 233.11,270.23 231.50,271.50 C229.89,272.77 228.53,274.22 227.55,276.00 C226.57,277.78 226.03,279.84 225.60,282.20 C225.17,284.56 225.00,287.32 224.95,290.15 C224.90,292.98 224.96,296.56 225.30,299.20 C225.64,301.84 226.06,303.83 227.00,306.00 C227.94,308.17 229.25,310.32 230.95,312.20 C232.65,314.08 234.84,315.70 237.20,317.30 C239.56,318.90 242.47,320.52 245.10,321.80 C247.73,323.08 250.55,324.43 253.00,325.00 C255.45,325.57 257.53,325.53 259.80,325.20 C262.07,324.87 264.72,324.32 266.60,323.00 C268.48,321.68 270.12,319.57 271.10,317.30 C272.08,315.03 272.50,312.03 272.50,309.40 C272.50,306.77 271.90,304.05 271.10,301.50 C270.30,298.95 269.02,296.47 267.70,294.10 C266.38,291.73 264.42,289.28 263.20,287.30 C261.98,285.32 261.25,283.98 260.40,282.20 C259.55,280.42 259.15,278.38 258.10,276.60 C257.05,274.82 255.70,272.92 254.10,271.50 C252.50,270.08 250.38,268.73 248.50,268.10 C246.62,267.48 244.68,267.70 242.80,267.75Z" fill="none" stroke="#000" stroke-width="1.85"/>
<text class="tt" x="248.30" y="182.70">jup.7026.01</text>
<text class="tt" x="248.30" y="197.40">2017-03-17 10:38 UT</text>
<g class="grid"><circle cx="420.30" cy="264.30" r="8.70"/><circle cx="420.30" cy="264.30" r="17.43"/><circle cx="420.30" cy="264.30" r="26.22"/><circle cx="420.30" cy="264.30" r="35.12"/><circle cx="420.30" cy="264.30" r="44.16"/><circle cx="420.30" cy="264.30" r="53.37"/><circle cx="420.30" cy="264.30" r="62.80"/><line x1="420.30" y1="264.30" x2="420.30" y2="201.50"/><line x1="420.30" y1="264.30" x2="474.69" y2="232.90"/><line x1="420.30" y1="264.30" x2="474.69" y2="295.70"/><line x1="420.30" y1="264.30" x2="420.30" y2="327.10"/><line x1="420.30" y1="264.30" x2="365.91" y2="295.70"/><line x1="420.30" y1="264.30" x2="365.91" y2="232.90"/></g>
<circle cx="420.30" cy="264.30" r="0.9" fill="#333"/>
<g class="lab">
<text x="420.30" y="216.20" text-anchor="middle">60</text>
<text x="420.30" y="233.10" text-anchor="middle">70</text>
<text x="420.30" y="250.20" text-anchor="middle">80</text>
<text x="477.80" y="233.70" text-anchor="start">60</text>
<text x="478.20" y="302.90" text-anchor="start">120</text>
<text x="362.40" y="302.90" text-anchor="end">240</text>
<text x="362.80" y="233.70" text-anchor="end">320</text>
</g>
<clipPath id="c5"><path d="M410.2,288.7A26.4,26.4 0 0 1 394.2,268.0L397.2,267.5A23.3,23.3 0 0 0 411.4,285.8ZM415.9,293.5A29.5,29.5 0 0 1 390.8,263.0L393.9,263.1A26.4,26.4 0 0 0 416.4,290.4ZM419.4,296.9A32.6,32.6 0 0 1 388.1,258.9L391.2,259.4A29.5,29.5 0 0 0 419.5,293.8ZM421.5,299.8A35.5,35.5 0 0 1 386.2,254.2L389.0,255.0A32.6,32.6 0 0 0 421.4,296.9ZM424.0,302.4A38.3,38.3 0 0 1 384.3,251.2L386.9,252.1A35.5,35.5 0 0 0 423.7,299.7ZM426.7,304.7A40.9,40.9 0 0 1 382.8,248.0L385.2,249.0A38.3,38.3 0 0 0 426.3,302.1ZM427.1,307.1A43.3,43.3 0 0 1 380.6,247.0L382.8,248.0A40.9,40.9 0 0 0 426.7,304.7ZM430.2,308.8A45.6,45.6 0 0 1 378.5,246.1L380.6,247.0A43.3,43.3 0 0 0 429.7,306.6ZM430.6,310.9A47.8,47.8 0 0 1 377.7,242.6L379.7,243.6A45.6,45.6 0 0 0 430.2,308.8ZM425.1,313.8A49.8,49.8 0 0 1 374.7,244.5L376.5,245.3A47.8,47.8 0 0 0 424.9,311.8Z"/></clipPath>
<mask id="m5" maskUnits="userSpaceOnUse" x="368.2" y="241.6" width="64.9" height="74.0"><rect x="368.2" y="241.6" width="64.9" height="74.0" fill="#fff"/><g fill="none" stroke="#181818"><circle cx="420.30" cy="264.30" r="14.00" stroke-width="1.20"/><circle cx="420.30" cy="264.30" r="17.10" stroke-width="1.20"/><circle cx="420.30" cy="264.30" r="20.20" stroke-width="1.20"/><circle cx="420.30" cy="264.30" r="23.30" stroke-width="1.20"/><circle cx="420.30" cy="264.30" r="26.40" stroke-width="1.20"/><circle cx="420.30" cy="264.30" r="29.50" stroke-width="1.20"/><circle cx="420.30" cy="264.30" r="32.60" stroke-width="1.04"/><circle cx="420.30" cy="264.30" r="35.54" stroke-width="0.86"/><circle cx="420.30" cy="264.30" r="38.30" stroke-width="0.69"/><circle cx="420.30" cy="264.30" r="40.90" stroke-width="0.53"/><circle cx="420.30" cy="264.30" r="43.33" stroke-width="0.39"/><circle cx="420.30" cy="264.30" r="45.61" stroke-width="0.25"/><circle cx="420.30" cy="264.30" r="47.76" stroke-width="0.20"/><circle cx="420.30" cy="264.30" r="49.78" stroke-width="0.20"/><circle cx="420.30" cy="264.30" r="51.78" stroke-width="0.20"/><circle cx="420.30" cy="264.30" r="53.78" stroke-width="0.20"/><circle cx="420.30" cy="264.30" r="55.78" stroke-width="0.20"/><circle cx="420.30" cy="264.30" r="57.78" stroke-width="0.20"/><circle cx="420.30" cy="264.30" r="59.78" stroke-width="0.20"/><circle cx="420.30" cy="264.30" r="61.78" stroke-width="0.20"/><circle cx="420.30" cy="264.30" r="63.78" stroke-width="0.20"/><circle cx="420.30" cy="264.30" r="65.78" stroke-width="0.20"/><circle cx="420.30" cy="264.30" r="67.78" stroke-width="0.20"/><circle cx="420.30" cy="264.30" r="69.78" stroke-width="0.20"/></g></mask>
<g clip-path="url(#c5)"><g mask="url(#m5)">
<polygon points="377.5,243.6 383.8,250.0 393.8,264.5 401.1,275.5 410.2,286.4 419.3,295.5 428.4,306.4 431.1,311.8 421.1,313.6 410.2,312.7 399.3,310.0 388.4,302.7 378.4,291.8 372.0,279.1 370.2,266.4 372.0,253.6 374.7,246.4" fill="#7010a6"/>
<g filter="url(#bl)">
<ellipse cx="373.0" cy="272.0" rx="6.0" ry="24.0" fill="#41049d" opacity="0.90"/>
<ellipse cx="386.0" cy="302.0" rx="10.0" ry="8.0" fill="#41049d" opacity="0.90"/>
<ellipse cx="406.0" cy="313.0" rx="12.0" ry="4.0" fill="#41049d" opacity="0.70"/>
<ellipse cx="404.0" cy="284.0" rx="9.0" ry="9.0" fill="#b12a90" opacity="0.80"/>
</g>
<rect x="368.2" y="241.6" width="64.9" height="74.0" filter="url(#nzB)"/>
<rect x="368.2" y="241.6" width="64.9" height="74.0" filter="url(#nzM)"/>
<g filter="url(#bl)">
<ellipse cx="412.0" cy="292.0" rx="8.0" ry="6.0" fill="#d9506e" opacity="0.90"/>
<ellipse cx="422.0" cy="303.0" rx="8.0" ry="6.0" fill="#f2844b" opacity="1.00"/>
<ellipse cx="417.0" cy="297.0" rx="4.0" ry="3.0" fill="#f6e52c" opacity="1.00"/>
</g>
</g></g>
<path d="M414.80,267.75 C412.92,267.80 411.08,267.78 409.20,268.40 C407.32,269.03 405.11,270.23 403.50,271.50 C401.89,272.77 400.53,274.22 399.55,276.00 C398.57,277.78 398.03,279.84 397.60,282.20 C397.17,284.56 397.00,287.32 396.95,290.15 C396.90,292.98 396.96,296.56 397.30,299.20 C397.64,301.84 398.06,303.83 399.00,306.00 C399.94,308.17 401.25,310.32 402.95,312.20 C404.65,314.08 406.84,315.70 409.20,317.30 C411.56,318.90 414.47,320.52 417.10,321.80 C419.73,323.08 422.55,324.43 425.00,325.00 C427.45,325.57 429.53,325.53 431.80,325.20 C434.07,324.87 436.72,324.32 438.60,323.00 C440.48,321.68 442.12,319.57 443.10,317.30 C444.08,315.03 444.50,312.03 444.50,309.40 C444.50,306.77 443.90,304.05 443.10,301.50 C442.30,298.95 441.02,296.47 439.70,294.10 C438.38,291.73 436.42,289.28 435.20,287.30 C433.98,285.32 433.25,283.98 432.40,282.20 C431.55,280.42 431.15,278.38 430.10,276.60 C429.05,274.82 427.70,272.92 426.10,271.50 C424.50,270.08 422.38,268.73 420.50,268.10 C418.62,267.48 416.68,267.70 414.80,267.75Z" fill="none" stroke="#000" stroke-width="1.85"/>
<text class="tt" x="420.30" y="182.70">jup.7026.02</text>
<text class="tt" x="420.30" y="197.40">2017-03-17 10:38 UT</text>
<g class="grid"><circle cx="76.10" cy="437.30" r="8.70"/><circle cx="76.10" cy="437.30" r="17.43"/><circle cx="76.10" cy="437.30" r="26.22"/><circle cx="76.10" cy="437.30" r="35.12"/><circle cx="76.10" cy="437.30" r="44.16"/><circle cx="76.10" cy="437.30" r="53.37"/><circle cx="76.10" cy="437.30" r="62.80"/><line x1="76.10" y1="437.30" x2="76.10" y2="374.50"/><line x1="76.10" y1="437.30" x2="130.49" y2="405.90"/><line x1="76.10" y1="437.30" x2="130.49" y2="468.70"/><line x1="76.10" y1="437.30" x2="76.10" y2="500.10"/><line x1="76.10" y1="437.30" x2="21.71" y2="468.70"/><line x1="76.10" y1="437.30" x2="21.71" y2="405.90"/></g>
<circle cx="76.10" cy="437.30" r="0.9" fill="#333"/>
<g class="lab">
<text x="76.10" y="389.20" text-anchor="middle">60</text>
<text x="76.10" y="406.10" text-anchor="middle">70</text>
<text x="76.10" y="423.20" text-anchor="middle">80</text>
<text x="133.60" y="406.20" text-anchor="start">60</text>
<text x="134.00" y="477.50" text-anchor="start">120</text>
<text x="18.20" y="477.50" text-anchor="end">240</text>
<text x="18.60" y="406.20" text-anchor="end">320</text>
</g>
<clipPath id="c6"><path d="M49.9,440.4A26.4,26.4 0 0 1 55.5,420.8L57.9,422.7A23.3,23.3 0 0 0 53.0,440.0ZM47.9,446.0A29.5,29.5 0 0 1 62.8,410.9L64.2,413.7A26.4,26.4 0 0 0 50.9,445.1ZM46.4,450.7A32.6,32.6 0 0 1 65.1,406.6L66.2,409.5A29.5,29.5 0 0 0 49.2,449.4ZM44.6,453.8A35.5,35.5 0 0 1 66.2,403.2L67.0,406.0A32.6,32.6 0 0 0 47.2,452.5ZM43.3,457.1A38.3,38.3 0 0 1 67.7,399.9L68.3,402.6A35.5,35.5 0 0 0 45.7,455.7ZM41.1,458.5A40.9,40.9 0 0 1 69.6,396.9L70.0,399.5A38.3,38.3 0 0 0 43.3,457.1ZM40.5,462.0A43.3,43.3 0 0 1 71.8,394.2L72.0,396.6A40.9,40.9 0 0 0 42.5,460.6ZM40.3,465.5A45.6,45.6 0 0 1 74.3,391.7L74.4,394.0A43.3,43.3 0 0 0 42.0,464.1ZM38.6,466.8A47.8,47.8 0 0 1 74.3,389.6L74.3,391.7A45.6,45.6 0 0 0 40.3,465.5ZM38.9,470.4A49.8,49.8 0 0 1 74.2,387.6L74.3,389.6A47.8,47.8 0 0 0 40.4,469.1ZM31.8,464.1A51.8,51.8 0 0 1 30.3,461.4L32.0,460.4A49.8,49.8 0 0 0 33.5,463.1ZM26.6,452.6A51.8,51.8 0 0 1 64.7,386.8L65.2,388.7A49.8,49.8 0 0 0 28.6,452.0ZM23.3,427.2A53.8,53.8 0 0 1 49.1,390.8L50.1,392.6A51.8,51.8 0 0 0 25.2,427.6ZM37.2,397.3A55.8,55.8 0 0 1 39.7,395.0L41.0,396.5A53.8,53.8 0 0 0 38.6,398.7Z"/></clipPath>
<mask id="m6" maskUnits="userSpaceOnUse" x="21.6" y="385.7" width="54.0" height="85.8"><rect x="21.6" y="385.7" width="54.0" height="85.8" fill="#fff"/><g fill="none" stroke="#181818"><circle cx="76.10" cy="437.30" r="14.00" stroke-width="1.20"/><circle cx="76.10" cy="437.30" r="17.10" stroke-width="1.20"/><circle cx="76.10" cy="437.30" r="20.20" stroke-width="1.20"/><circle cx="76.10" cy="437.30" r="23.30" stroke-width="1.20"/><circle cx="76.10" cy="437.30" r="26.40" stroke-width="1.20"/><circle cx="76.10" cy="437.30" r="29.50" stroke-width="1.20"/><circle cx="76.10" cy="437.30" r="32.60" stroke-width="1.04"/><circle cx="76.10" cy="437.30" r="35.54" stroke-width="0.86"/><circle cx="76.10" cy="437.30" r="38.30" stroke-width="0.69"/><circle cx="76.10" cy="437.30" r="40.90" stroke-width="0.53"/><circle cx="76.10" cy="437.30" r="43.33" stroke-width="0.50"/><circle cx="76.10" cy="437.30" r="45.61" stroke-width="0.50"/><circle cx="76.10" cy="437.30" r="47.76" stroke-width="0.50"/><circle cx="76.10" cy="437.30" r="49.78" stroke-width="0.50"/><circle cx="76.10" cy="437.30" r="51.78" stroke-width="0.50"/><circle cx="76.10" cy="437.30" r="53.78" stroke-width="0.50"/><circle cx="76.10" cy="437.30" r="55.78" stroke-width="0.50"/><circle cx="76.10" cy="437.30" r="57.78" stroke-width="0.50"/><circle cx="76.10" cy="437.30" r="59.78" stroke-width="0.50"/><circle cx="76.10" cy="437.30" r="61.78" stroke-width="0.50"/><circle cx="76.10" cy="437.30" r="63.78" stroke-width="0.50"/><circle cx="76.10" cy="437.30" r="65.78" stroke-width="0.50"/><circle cx="76.10" cy="437.30" r="67.78" stroke-width="0.50"/><circle cx="76.10" cy="437.30" r="69.78" stroke-width="0.50"/></g></mask>
<g clip-path="url(#c6)"><g mask="url(#m6)">
<polygon points="72.7,387.7 73.6,392.3 68.2,402.3 62.7,414.1 57.3,420.5 52.7,429.5 51.8,438.6 50.0,444.1 46.4,451.4 42.7,458.6 39.1,469.5 36.0,467.0 31.8,462.3 25.5,447.7 23.6,435.0 24.5,422.3 30.0,407.7 39.1,396.8 51.8,390.5 64.5,387.7" fill="#7c10aa"/>
<g filter="url(#bl)">
<ellipse cx="44.0" cy="432.0" rx="7.0" ry="22.0" fill="#41049d" opacity="0.85"/>
<ellipse cx="58.0" cy="398.0" rx="14.0" ry="6.0" fill="#b12a90" opacity="0.55"/>
<ellipse cx="30.0" cy="425.0" rx="6.0" ry="22.0" fill="#8f0da4" opacity="0.70"/>
<ellipse cx="36.0" cy="405.0" rx="8.0" ry="8.0" fill="#b12a90" opacity="0.50"/>
<ellipse cx="30.0" cy="445.0" rx="5.0" ry="10.0" fill="#b12a90" opacity="0.45"/>
</g>
<rect x="21.6" y="385.7" width="54.0" height="85.8" filter="url(#nzB)"/>
<rect x="21.6" y="385.7" width="54.0" height="85.8" filter="url(#nzP)"/>
<rect x="21.6" y="385.7" width="54.0" height="85.8" filter="url(#nzM)"/>
</g></g>
<path d="M70.60,440.75 C68.72,440.80 66.88,440.78 65.00,441.40 C63.12,442.03 60.91,443.23 59.30,444.50 C57.69,445.77 56.33,447.22 55.35,449.00 C54.37,450.78 53.83,452.84 53.40,455.20 C52.97,457.56 52.80,460.32 52.75,463.15 C52.70,465.98 52.76,469.56 53.10,472.20 C53.44,474.84 53.86,476.83 54.80,479.00 C55.74,481.17 57.05,483.32 58.75,485.20 C60.45,487.08 62.64,488.70 65.00,490.30 C67.36,491.90 70.27,493.52 72.90,494.80 C75.53,496.08 78.35,497.43 80.80,498.00 C83.25,498.57 85.33,498.53 87.60,498.20 C89.87,497.87 92.52,497.32 94.40,496.00 C96.28,494.68 97.92,492.57 98.90,490.30 C99.88,488.03 100.30,485.03 100.30,482.40 C100.30,479.77 99.70,477.05 98.90,474.50 C98.10,471.95 96.82,469.47 95.50,467.10 C94.18,464.73 92.22,462.28 91.00,460.30 C89.78,458.32 89.05,456.98 88.20,455.20 C87.35,453.42 86.95,451.38 85.90,449.60 C84.85,447.82 83.50,445.92 81.90,444.50 C80.30,443.08 78.18,441.73 76.30,441.10 C74.42,440.48 72.48,440.70 70.60,440.75Z" fill="none" stroke="#000" stroke-width="1.85"/>
<text class="tt" x="76.10" y="355.70">jup.7039.01</text>
<text class="tt" x="76.10" y="370.40">2017-03-17 12:20 UT</text>
<g class="grid"><circle cx="248.30" cy="437.30" r="8.70"/><circle cx="248.30" cy="437.30" r="17.43"/><circle cx="248.30" cy="437.30" r="26.22"/><circle cx="248.30" cy="437.30" r="35.12"/><circle cx="248.30" cy="437.30" r="44.16"/><circle cx="248.30" cy="437.30" r="53.37"/><circle cx="248.30" cy="437.30" r="62.80"/><line x1="248.30" y1="437.30" x2="248.30" y2="374.50"/><line x1="248.30" y1="437.30" x2="302.69" y2="405.90"/><line x1="248.30" y1="437.30" x2="302.69" y2="468.70"/><line x1="248.30" y1="437.30" x2="248.30" y2="500.10"/><line x1="248.30" y1="437.30" x2="193.91" y2="468.70"/><line x1="248.30" y1="437.30" x2="193.91" y2="405.90"/></g>
<circle cx="248.30" cy="437.30" r="0.9" fill="#333"/>
<g class="lab">
<text x="248.30" y="389.20" text-anchor="middle">60</text>
<text x="248.30" y="406.10" text-anchor="middle">70</text>
<text x="248.30" y="423.20" text-anchor="middle">80</text>
<text x="305.80" y="406.20" text-anchor="start">60</text>
<text x="306.20" y="477.50" text-anchor="start">120</text>
<text x="190.40" y="477.50" text-anchor="end">240</text>
<text x="190.80" y="406.20" text-anchor="end">320</text>
</g>
<clipPath id="c7"><path d="M221.9,436.6A26.4,26.4 0 0 1 223.4,428.7L226.3,429.7A23.3,23.3 0 0 0 225.0,436.6ZM223.4,428.7A26.4,26.4 0 0 1 234.2,415.0L235.8,417.6A23.3,23.3 0 0 0 226.3,429.7ZM219.5,443.6A29.5,29.5 0 0 1 235.6,410.7L237.0,413.5A26.4,26.4 0 0 0 222.5,443.0ZM217.6,448.1A32.6,32.6 0 0 1 238.0,406.4L239.0,409.3A29.5,29.5 0 0 0 220.5,447.1ZM216.5,453.1A35.5,35.5 0 0 1 239.2,403.0L239.9,405.8A32.6,32.6 0 0 0 219.1,451.8ZM215.1,456.4A38.3,38.3 0 0 1 240.7,399.8L241.3,402.5A35.5,35.5 0 0 0 217.5,455.0ZM212.8,457.7A40.9,40.9 0 0 1 242.7,396.8L243.0,399.4A38.3,38.3 0 0 0 215.1,456.4ZM212.1,461.2A43.3,43.3 0 0 1 245.0,394.1L245.2,396.5A40.9,40.9 0 0 0 214.2,459.8ZM210.2,462.4A45.6,45.6 0 0 1 247.6,391.7L247.6,394.0A43.3,43.3 0 0 0 212.1,461.2ZM210.1,466.0A47.8,47.8 0 0 1 247.5,389.5L247.6,391.7A45.6,45.6 0 0 0 211.8,464.7ZM208.5,467.2A49.8,49.8 0 0 1 247.5,387.5L247.5,389.5A47.8,47.8 0 0 0 210.1,466.0ZM205.1,465.8A51.8,51.8 0 0 1 244.3,385.7L244.5,387.7A49.8,49.8 0 0 0 206.7,464.7ZM194.7,432.5A53.8,53.8 0 0 1 219.5,391.9L220.6,393.6A51.8,51.8 0 0 0 196.7,432.7Z"/></clipPath>
<mask id="m7" maskUnits="userSpaceOnUse" x="193.6" y="384.8" width="56.8" height="84.9"><rect x="193.6" y="384.8" width="56.8" height="84.9" fill="#fff"/><g fill="none" stroke="#181818"><circle cx="248.30" cy="437.30" r="14.00" stroke-width="1.20"/><circle cx="248.30" cy="437.30" r="17.10" stroke-width="1.20"/><circle cx="248.30" cy="437.30" r="20.20" stroke-width="1.20"/><circle cx="248.30" cy="437.30" r="23.30" stroke-width="1.20"/><circle cx="248.30" cy="437.30" r="26.40" stroke-width="1.20"/><circle cx="248.30" cy="437.30" r="29.50" stroke-width="1.20"/><circle cx="248.30" cy="437.30" r="32.60" stroke-width="1.04"/><circle cx="248.30" cy="437.30" r="35.54" stroke-width="0.86"/><circle cx="248.30" cy="437.30" r="38.30" stroke-width="0.69"/><circle cx="248.30" cy="437.30" r="40.90" stroke-width="0.53"/><circle cx="248.30" cy="437.30" r="43.33" stroke-width="0.50"/><circle cx="248.30" cy="437.30" r="45.61" stroke-width="0.50"/><circle cx="248.30" cy="437.30" r="47.76" stroke-width="0.50"/><circle cx="248.30" cy="437.30" r="49.78" stroke-width="0.50"/><circle cx="248.30" cy="437.30" r="51.78" stroke-width="0.50"/><circle cx="248.30" cy="437.30" r="53.78" stroke-width="0.50"/><circle cx="248.30" cy="437.30" r="55.78" stroke-width="0.50"/><circle cx="248.30" cy="437.30" r="57.78" stroke-width="0.50"/><circle cx="248.30" cy="437.30" r="59.78" stroke-width="0.50"/><circle cx="248.30" cy="437.30" r="61.78" stroke-width="0.50"/><circle cx="248.30" cy="437.30" r="63.78" stroke-width="0.50"/><circle cx="248.30" cy="437.30" r="65.78" stroke-width="0.50"/><circle cx="248.30" cy="437.30" r="67.78" stroke-width="0.50"/><circle cx="248.30" cy="437.30" r="69.78" stroke-width="0.50"/></g></mask>
<g clip-path="url(#c7)"><g mask="url(#m7)">
<polygon points="242.9,386.8 247.5,387.7 248.4,390.5 244.5,396.0 240.5,402.3 236.5,411.4 234.7,417.7 229.3,422.3 224.7,429.5 222.9,439.5 217.5,451.4 212.9,460.5 210.2,467.7 205.6,465.9 200.2,455.0 196.5,444.1 195.6,429.5 198.4,416.8 205.6,404.1 216.5,394.1 229.3,388.6 236.5,386.8" fill="#7c10aa"/>
<g filter="url(#bl)">
<ellipse cx="216.0" cy="432.0" rx="7.0" ry="22.0" fill="#41049d" opacity="0.85"/>
<ellipse cx="230.0" cy="398.0" rx="14.0" ry="6.0" fill="#b12a90" opacity="0.55"/>
<ellipse cx="202.0" cy="425.0" rx="6.0" ry="22.0" fill="#8f0da4" opacity="0.70"/>
<ellipse cx="208.0" cy="405.0" rx="8.0" ry="8.0" fill="#b12a90" opacity="0.50"/>
<ellipse cx="202.0" cy="445.0" rx="5.0" ry="10.0" fill="#b12a90" opacity="0.45"/>
</g>
<rect x="193.6" y="384.8" width="56.8" height="84.9" filter="url(#nzB)"/>
<rect x="193.6" y="384.8" width="56.8" height="84.9" filter="url(#nzP)"/>
<rect x="193.6" y="384.8" width="56.8" height="84.9" filter="url(#nzM)"/>
</g></g>
<path d="M242.80,440.75 C240.92,440.80 239.08,440.78 237.20,441.40 C235.32,442.03 233.11,443.23 231.50,444.50 C229.89,445.77 228.53,447.22 227.55,449.00 C226.57,450.78 226.03,452.84 225.60,455.20 C225.17,457.56 225.00,460.32 224.95,463.15 C224.90,465.98 224.96,469.56 225.30,472.20 C225.64,474.84 226.06,476.83 227.00,479.00 C227.94,481.17 229.25,483.32 230.95,485.20 C232.65,487.08 234.84,488.70 237.20,490.30 C239.56,491.90 242.47,493.52 245.10,494.80 C247.73,496.08 250.55,497.43 253.00,498.00 C255.45,498.57 257.53,498.53 259.80,498.20 C262.07,497.87 264.72,497.32 266.60,496.00 C268.48,494.68 270.12,492.57 271.10,490.30 C272.08,488.03 272.50,485.03 272.50,482.40 C272.50,479.77 271.90,477.05 271.10,474.50 C270.30,471.95 269.02,469.47 267.70,467.10 C266.38,464.73 264.42,462.28 263.20,460.30 C261.98,458.32 261.25,456.98 260.40,455.20 C259.55,453.42 259.15,451.38 258.10,449.60 C257.05,447.82 255.70,445.92 254.10,444.50 C252.50,443.08 250.38,441.73 248.50,441.10 C246.62,440.48 244.68,440.70 242.80,440.75Z" fill="none" stroke="#000" stroke-width="1.85"/>
<text class="tt" x="248.30" y="355.70">jup.7039.02</text>
<text class="tt" x="248.30" y="370.40">2017-03-17 12:20 UT</text>
<g class="grid"><circle cx="420.30" cy="437.30" r="8.70"/><circle cx="420.30" cy="437.30" r="17.43"/><circle cx="420.30" cy="437.30" r="26.22"/><circle cx="420.30" cy="437.30" r="35.12"/><circle cx="420.30" cy="437.30" r="44.16"/><circle cx="420.30" cy="437.30" r="53.37"/><circle cx="420.30" cy="437.30" r="62.80"/><line x1="420.30" y1="437.30" x2="420.30" y2="374.50"/><line x1="420.30" y1="437.30" x2="474.69" y2="405.90"/><line x1="420.30" y1="437.30" x2="474.69" y2="468.70"/><line x1="420.30" y1="437.30" x2="420.30" y2="500.10"/><line x1="420.30" y1="437.30" x2="365.91" y2="468.70"/><line x1="420.30" y1="437.30" x2="365.91" y2="405.90"/></g>
<circle cx="420.30" cy="437.30" r="0.9" fill="#333"/>
<g class="lab">
<text x="420.30" y="389.20" text-anchor="middle">60</text>
<text x="420.30" y="406.10" text-anchor="middle">70</text>
<text x="420.30" y="423.20" text-anchor="middle">80</text>
<text x="477.80" y="406.20" text-anchor="start">60</text>
<text x="478.20" y="477.50" text-anchor="start">120</text>
<text x="362.40" y="477.50" text-anchor="end">240</text>
<text x="362.80" y="406.20" text-anchor="end">320</text>
</g>
<clipPath id="c8"><path d="M407.1,418.1A23.3,23.3 0 0 1 420.5,414.0L420.4,417.1A20.2,20.2 0 0 0 408.8,420.7ZM399.5,421.1A26.4,26.4 0 0 1 426.9,411.7L426.1,414.7A23.3,23.3 0 0 0 401.9,423.0ZM396.0,420.6A29.5,29.5 0 0 1 432.7,410.5L431.4,413.4A26.4,26.4 0 0 0 398.5,422.4ZM391.4,422.3A32.6,32.6 0 0 1 435.8,408.6L434.3,411.4A29.5,29.5 0 0 0 394.1,423.7ZM387.8,422.9A35.5,35.5 0 0 1 440.9,408.3L439.2,410.7A32.6,32.6 0 0 0 390.5,424.1ZM384.4,423.9A38.3,38.3 0 0 1 444.4,407.5L442.6,409.6A35.5,35.5 0 0 0 387.0,424.9ZM381.2,425.4A40.9,40.9 0 0 1 447.9,407.1L446.1,409.0A38.3,38.3 0 0 0 383.7,426.2ZM378.2,427.3A43.3,43.3 0 0 1 449.5,405.3L447.9,407.1A40.9,40.9 0 0 0 380.5,427.8ZM375.9,426.7A45.6,45.6 0 0 1 453.1,405.6L451.4,407.1A43.3,43.3 0 0 0 378.2,427.3ZM373.8,426.2A47.8,47.8 0 0 1 456.6,406.2L454.9,407.6A45.6,45.6 0 0 0 375.9,426.7ZM371.9,425.8A49.8,49.8 0 0 1 458.1,404.9L456.6,406.2A47.8,47.8 0 0 0 373.8,426.2ZM375.9,410.7A51.8,51.8 0 0 1 377.6,408.0L379.2,409.2A49.8,49.8 0 0 0 377.6,411.7ZM379.4,405.5A51.8,51.8 0 0 1 455.2,399.1L453.9,400.5A49.8,49.8 0 0 0 381.0,406.7ZM395.4,389.6A53.8,53.8 0 0 1 439.9,387.2L439.2,389.1A51.8,51.8 0 0 0 396.3,391.4Z"/></clipPath>
<mask id="m8" maskUnits="userSpaceOnUse" x="370.1" y="380.8" width="89.3" height="48.7"><rect x="370.1" y="380.8" width="89.3" height="48.7" fill="#fff"/><g fill="none" stroke="#181818"><circle cx="420.30" cy="437.30" r="14.00" stroke-width="1.20"/><circle cx="420.30" cy="437.30" r="17.10" stroke-width="1.20"/><circle cx="420.30" cy="437.30" r="20.20" stroke-width="1.20"/><circle cx="420.30" cy="437.30" r="23.30" stroke-width="1.20"/><circle cx="420.30" cy="437.30" r="26.40" stroke-width="1.20"/><circle cx="420.30" cy="437.30" r="29.50" stroke-width="1.20"/><circle cx="420.30" cy="437.30" r="32.60" stroke-width="1.04"/><circle cx="420.30" cy="437.30" r="35.54" stroke-width="0.86"/><circle cx="420.30" cy="437.30" r="38.30" stroke-width="0.69"/><circle cx="420.30" cy="437.30" r="40.90" stroke-width="0.53"/><circle cx="420.30" cy="437.30" r="43.33" stroke-width="0.50"/><circle cx="420.30" cy="437.30" r="45.61" stroke-width="0.50"/><circle cx="420.30" cy="437.30" r="47.76" stroke-width="0.50"/><circle cx="420.30" cy="437.30" r="49.78" stroke-width="0.50"/><circle cx="420.30" cy="437.30" r="51.78" stroke-width="0.50"/><circle cx="420.30" cy="437.30" r="53.78" stroke-width="0.50"/><circle cx="420.30" cy="437.30" r="55.78" stroke-width="0.50"/><circle cx="420.30" cy="437.30" r="57.78" stroke-width="0.50"/><circle cx="420.30" cy="437.30" r="59.78" stroke-width="0.50"/><circle cx="420.30" cy="437.30" r="61.78" stroke-width="0.50"/><circle cx="420.30" cy="437.30" r="63.78" stroke-width="0.50"/><circle cx="420.30" cy="437.30" r="65.78" stroke-width="0.50"/><circle cx="420.30" cy="437.30" r="67.78" stroke-width="0.50"/><circle cx="420.30" cy="437.30" r="69.78" stroke-width="0.50"/></g></mask>
<g clip-path="url(#c8)"><g mask="url(#m8)">
<polygon points="372.1,427.5 376.6,411.0 386.7,397.5 399.0,388.0 415.5,382.8 430.0,383.8 444.3,390.3 454.4,399.7 457.4,405.3 451.9,406.3 443.8,408.3 435.7,410.3 426.6,413.4 411.5,418.4 402.4,421.4 395.3,422.4 385.2,424.5 377.1,427.5" fill="#41049d"/>
<g filter="url(#bl)">
<ellipse cx="415.0" cy="392.0" rx="25.0" ry="7.0" fill="#6a00a8" opacity="0.70"/>
<ellipse cx="440.0" cy="400.0" rx="10.0" ry="6.0" fill="#8f0da4" opacity="0.50"/>
</g>
<rect x="370.1" y="380.8" width="89.3" height="48.7" filter="url(#nzB)"/>
<rect x="370.1" y="380.8" width="89.3" height="48.7" filter="url(#nzP)"/>
<rect x="370.1" y="380.8" width="89.3" height="48.7" filter="url(#nzM)"/>
</g></g>
<path d="M414.80,440.75 C412.92,440.80 411.08,440.78 409.20,441.40 C407.32,442.03 405.11,443.23 403.50,444.50 C401.89,445.77 400.53,447.22 399.55,449.00 C398.57,450.78 398.03,452.84 397.60,455.20 C397.17,457.56 397.00,460.32 396.95,463.15 C396.90,465.98 396.96,469.56 397.30,472.20 C397.64,474.84 398.06,476.83 399.00,479.00 C399.94,481.17 401.25,483.32 402.95,485.20 C404.65,487.08 406.84,488.70 409.20,490.30 C411.56,491.90 414.47,493.52 417.10,494.80 C419.73,496.08 422.55,497.43 425.00,498.00 C427.45,498.57 429.53,498.53 431.80,498.20 C434.07,497.87 436.72,497.32 438.60,496.00 C440.48,494.68 442.12,492.57 443.10,490.30 C444.08,488.03 444.50,485.03 444.50,482.40 C444.50,479.77 443.90,477.05 443.10,474.50 C442.30,471.95 441.02,469.47 439.70,467.10 C438.38,464.73 436.42,462.28 435.20,460.30 C433.98,458.32 433.25,456.98 432.40,455.20 C431.55,453.42 431.15,451.38 430.10,449.60 C429.05,447.82 427.70,445.92 426.10,444.50 C424.50,443.08 422.38,441.73 420.50,441.10 C418.62,440.48 416.68,440.70 414.80,440.75Z" fill="none" stroke="#000" stroke-width="1.85"/>
<text class="tt" x="420.30" y="355.70">jup.8005.01</text>
<text class="tt" x="420.30" y="370.40">2017-03-18 09:37 UT</text>
<g class="grid"><circle cx="76.10" cy="610.30" r="8.70"/><circle cx="76.10" cy="610.30" r="17.43"/><circle cx="76.10" cy="610.30" r="26.22"/><circle cx="76.10" cy="610.30" r="35.12"/><circle cx="76.10" cy="610.30" r="44.16"/><circle cx="76.10" cy="610.30" r="53.37"/><circle cx="76.10" cy="610.30" r="62.80"/><line x1="76.10" y1="610.30" x2="76.10" y2="547.50"/><line x1="76.10" y1="610.30" x2="130.49" y2="578.90"/><line x1="76.10" y1="610.30" x2="130.49" y2="641.70"/><line x1="76.10" y1="610.30" x2="76.10" y2="673.10"/><line x1="76.10" y1="610.30" x2="21.71" y2="641.70"/><line x1="76.10" y1="610.30" x2="21.71" y2="578.90"/></g>
<circle cx="76.10" cy="610.30" r="0.9" fill="#333"/>
<g class="lab">
<text x="76.10" y="562.20" text-anchor="middle">60</text>
<text x="76.10" y="579.10" text-anchor="middle">70</text>
<text x="76.10" y="596.20" text-anchor="middle">80</text>
<text x="133.60" y="579.00" text-anchor="start">60</text>
<text x="131.00" y="651.40" text-anchor="start">120</text>
<text x="21.20" y="651.40" text-anchor="end">240</text>
<text x="18.60" y="579.00" text-anchor="end">320</text>
</g>
<clipPath id="c9"><path d="M56.7,592.4A26.4,26.4 0 0 1 86.3,585.9L85.1,588.8A23.3,23.3 0 0 0 59.0,594.5ZM52.1,593.1A29.5,29.5 0 0 1 90.7,584.7L89.2,587.4A26.4,26.4 0 0 0 54.7,594.9ZM47.5,594.6A32.6,32.6 0 0 1 94.0,583.0L92.3,585.6A29.5,29.5 0 0 0 50.2,596.1ZM43.9,595.2A35.5,35.5 0 0 1 99.0,583.2L97.1,585.4A32.6,32.6 0 0 0 46.6,596.4ZM40.5,596.1A38.3,38.3 0 0 1 102.6,582.6L100.7,584.6A35.5,35.5 0 0 0 43.1,597.2ZM38.1,595.2A40.9,40.9 0 0 1 106.1,582.5L104.2,584.3A38.3,38.3 0 0 0 40.5,596.1ZM34.9,596.8A43.3,43.3 0 0 1 107.9,580.9L106.1,582.5A40.9,40.9 0 0 0 37.3,597.5ZM32.0,598.7A45.6,45.6 0 0 1 111.4,581.4L109.6,582.9A43.3,43.3 0 0 0 34.2,599.3ZM29.9,598.2A47.8,47.8 0 0 1 113.1,580.0L111.4,581.4A45.6,45.6 0 0 0 32.0,598.7ZM28.0,597.7A49.8,49.8 0 0 1 116.5,581.2L114.8,582.4A47.8,47.8 0 0 0 29.9,598.2ZM25.3,600.2A51.8,51.8 0 0 1 118.1,580.0L116.5,581.2A49.8,49.8 0 0 0 27.3,600.6ZM41.3,569.3A53.8,53.8 0 0 1 119.7,578.8L118.1,580.0A51.8,51.8 0 0 0 42.6,570.8ZM60.9,556.6A55.8,55.8 0 0 1 109.4,565.6L108.2,567.2A53.8,53.8 0 0 0 61.5,558.6Z"/></clipPath>
<mask id="m9" maskUnits="userSpaceOnUse" x="23.0" y="552.0" width="97.3" height="49.5"><rect x="23.0" y="552.0" width="97.3" height="49.5" fill="#fff"/><g fill="none" stroke="#181818"><circle cx="76.10" cy="610.30" r="14.00" stroke-width="1.20"/><circle cx="76.10" cy="610.30" r="17.10" stroke-width="1.20"/><circle cx="76.10" cy="610.30" r="20.20" stroke-width="1.20"/><circle cx="76.10" cy="610.30" r="23.30" stroke-width="1.20"/><circle cx="76.10" cy="610.30" r="26.40" stroke-width="1.20"/><circle cx="76.10" cy="610.30" r="29.50" stroke-width="1.20"/><circle cx="76.10" cy="610.30" r="32.60" stroke-width="1.04"/><circle cx="76.10" cy="610.30" r="35.54" stroke-width="0.86"/><circle cx="76.10" cy="610.30" r="38.30" stroke-width="0.69"/><circle cx="76.10" cy="610.30" r="40.90" stroke-width="0.53"/><circle cx="76.10" cy="610.30" r="43.33" stroke-width="0.50"/><circle cx="76.10" cy="610.30" r="45.61" stroke-width="0.50"/><circle cx="76.10" cy="610.30" r="47.76" stroke-width="0.50"/><circle cx="76.10" cy="610.30" r="49.78" stroke-width="0.50"/><circle cx="76.10" cy="610.30" r="51.78" stroke-width="0.50"/><circle cx="76.10" cy="610.30" r="53.78" stroke-width="0.50"/><circle cx="76.10" cy="610.30" r="55.78" stroke-width="0.50"/><circle cx="76.10" cy="610.30" r="57.78" stroke-width="0.50"/><circle cx="76.10" cy="610.30" r="59.78" stroke-width="0.50"/><circle cx="76.10" cy="610.30" r="61.78" stroke-width="0.50"/><circle cx="76.10" cy="610.30" r="63.78" stroke-width="0.50"/><circle cx="76.10" cy="610.30" r="65.78" stroke-width="0.50"/><circle cx="76.10" cy="610.30" r="67.78" stroke-width="0.50"/><circle cx="76.10" cy="610.30" r="69.78" stroke-width="0.50"/></g></mask>
<g clip-path="url(#c9)"><g mask="url(#m9)">
<polygon points="25.0,597.8 28.3,590.0 35.0,578.9 43.9,567.8 55.0,560.0 66.1,555.6 77.2,554.0 90.6,555.6 103.9,562.2 112.8,570.0 118.3,577.8 117.2,580.5 105.0,582.5 92.8,584.4 86.9,586.5 81.9,588.0 71.7,588.3 62.1,592.2 48.3,595.6 37.2,597.1 26.1,599.5" fill="#760eac"/>
<g filter="url(#bl)">
<ellipse cx="72.0" cy="566.0" rx="28.0" ry="9.0" fill="#8f0da4" opacity="0.80"/>
<ellipse cx="75.0" cy="562.0" rx="18.0" ry="5.0" fill="#b12a90" opacity="0.50"/>
<ellipse cx="32.0" cy="590.0" rx="8.0" ry="8.0" fill="#41049d" opacity="0.80"/>
<ellipse cx="110.0" cy="574.0" rx="9.0" ry="6.0" fill="#41049d" opacity="0.70"/>
<ellipse cx="75.0" cy="583.0" rx="25.0" ry="5.0" fill="#41049d" opacity="0.50"/>
</g>
<rect x="23.0" y="552.0" width="97.3" height="49.5" filter="url(#nzB)"/>
<rect x="23.0" y="552.0" width="97.3" height="49.5" filter="url(#nzP)"/>
<rect x="23.0" y="552.0" width="97.3" height="49.5" filter="url(#nzM)"/>
</g></g>
<path d="M70.60,613.75 C68.72,613.80 66.88,613.77 65.00,614.40 C63.12,615.02 60.91,616.23 59.30,617.50 C57.69,618.77 56.33,620.22 55.35,622.00 C54.37,623.78 53.83,625.84 53.40,628.20 C52.97,630.56 52.80,633.32 52.75,636.15 C52.70,638.98 52.76,642.56 53.10,645.20 C53.44,647.84 53.86,649.83 54.80,652.00 C55.74,654.17 57.05,656.32 58.75,658.20 C60.45,660.08 62.64,661.70 65.00,663.30 C67.36,664.90 70.27,666.52 72.90,667.80 C75.53,669.08 78.35,670.43 80.80,671.00 C83.25,671.57 85.33,671.53 87.60,671.20 C89.87,670.87 92.52,670.32 94.40,669.00 C96.28,667.68 97.92,665.57 98.90,663.30 C99.88,661.03 100.30,658.03 100.30,655.40 C100.30,652.77 99.70,650.05 98.90,647.50 C98.10,644.95 96.82,642.47 95.50,640.10 C94.18,637.73 92.22,635.28 91.00,633.30 C89.78,631.32 89.05,629.98 88.20,628.20 C87.35,626.42 86.95,624.38 85.90,622.60 C84.85,620.82 83.50,618.92 81.90,617.50 C80.30,616.08 78.18,614.72 76.30,614.10 C74.42,613.47 72.48,613.70 70.60,613.75Z" fill="none" stroke="#000" stroke-width="1.85"/>
<text class="tt" x="76.10" y="528.70">jup.8005.02</text>
<text class="tt" x="76.10" y="543.40">2017-03-18 09:37 UT</text>
<g class="grid"><circle cx="248.30" cy="610.30" r="8.70"/><circle cx="248.30" cy="610.30" r="17.43"/><circle cx="248.30" cy="610.30" r="26.22"/><circle cx="248.30" cy="610.30" r="35.12"/><circle cx="248.30" cy="610.30" r="44.16"/><circle cx="248.30" cy="610.30" r="53.37"/><circle cx="248.30" cy="610.30" r="62.80"/><line x1="248.30" y1="610.30" x2="248.30" y2="547.50"/><line x1="248.30" y1="610.30" x2="302.69" y2="578.90"/><line x1="248.30" y1="610.30" x2="302.69" y2="641.70"/><line x1="248.30" y1="610.30" x2="248.30" y2="673.10"/><line x1="248.30" y1="610.30" x2="193.91" y2="641.70"/><line x1="248.30" y1="610.30" x2="193.91" y2="578.90"/></g>
<circle cx="248.30" cy="610.30" r="0.9" fill="#333"/>
<g class="lab">
<text x="248.30" y="562.20" text-anchor="middle">60</text>
<text x="248.30" y="579.10" text-anchor="middle">70</text>
<text x="248.30" y="596.20" text-anchor="middle">80</text>
<text x="305.80" y="579.00" text-anchor="start">60</text>
<text x="303.20" y="651.40" text-anchor="start">120</text>
<text x="193.40" y="651.40" text-anchor="end">240</text>
<text x="190.80" y="579.00" text-anchor="end">320</text>
</g>
<clipPath id="c10"><path d="M258.9,589.5A23.3,23.3 0 0 1 268.9,599.4L266.1,600.8A20.2,20.2 0 0 0 257.5,592.3ZM255.8,585.0A26.4,26.4 0 0 1 274.5,607.1L271.4,607.5A23.3,23.3 0 0 0 254.9,588.0ZM249.6,580.8A29.5,29.5 0 0 1 277.7,612.1L274.7,611.9A26.4,26.4 0 0 0 249.5,583.9ZM246.0,577.8A32.6,32.6 0 0 1 280.3,616.5L277.3,615.9A29.5,29.5 0 0 0 246.2,580.9ZM243.7,575.1A35.5,35.5 0 0 1 282.7,619.2L279.9,618.5A32.6,32.6 0 0 0 244.0,578.0ZM241.0,572.7A38.3,38.3 0 0 1 284.7,622.1L282.1,621.3A35.5,35.5 0 0 0 241.5,575.4ZM240.5,570.2A40.9,40.9 0 0 1 286.3,625.3L283.9,624.3A38.3,38.3 0 0 0 241.0,572.7ZM237.5,568.4A43.3,43.3 0 0 1 287.6,628.6L285.4,627.6A40.9,40.9 0 0 0 238.1,570.7ZM236.9,566.1A45.6,45.6 0 0 1 289.6,629.6L287.6,628.6A43.3,43.3 0 0 0 237.5,568.4ZM236.3,564.1A47.8,47.8 0 0 1 291.6,630.5L289.6,629.6A45.6,45.6 0 0 0 236.9,566.1ZM235.8,562.1A49.8,49.8 0 0 1 293.4,631.3L291.6,630.5A47.8,47.8 0 0 0 236.3,564.1ZM235.3,560.2A51.8,51.8 0 0 1 295.2,632.2L293.4,631.3A49.8,49.8 0 0 0 235.8,562.1ZM234.8,558.2A53.8,53.8 0 0 1 299.4,626.9L297.5,626.3A51.8,51.8 0 0 0 235.3,560.2ZM254.1,554.8A55.8,55.8 0 0 1 260.8,556.0L260.4,557.9A53.8,53.8 0 0 0 253.9,556.8ZM301.5,593.5A55.8,55.8 0 0 1 303.7,603.5L301.7,603.7A53.8,53.8 0 0 0 299.6,594.1ZM304.1,610.3A55.8,55.8 0 0 1 304.0,613.7L302.0,613.6A53.8,53.8 0 0 0 302.1,610.3Z"/></clipPath>
<mask id="m10" maskUnits="userSpaceOnUse" x="233.0" y="553.9" width="72.2" height="80.4"><rect x="233.0" y="553.9" width="72.2" height="80.4" fill="#fff"/><g fill="none" stroke="#181818"><circle cx="248.30" cy="610.30" r="14.00" stroke-width="1.20"/><circle cx="248.30" cy="610.30" r="17.10" stroke-width="1.20"/><circle cx="248.30" cy="610.30" r="20.20" stroke-width="1.20"/><circle cx="248.30" cy="610.30" r="23.30" stroke-width="1.20"/><circle cx="248.30" cy="610.30" r="26.40" stroke-width="1.20"/><circle cx="248.30" cy="610.30" r="29.50" stroke-width="1.20"/><circle cx="248.30" cy="610.30" r="32.60" stroke-width="1.04"/><circle cx="248.30" cy="610.30" r="35.54" stroke-width="0.86"/><circle cx="248.30" cy="610.30" r="38.30" stroke-width="0.69"/><circle cx="248.30" cy="610.30" r="40.90" stroke-width="0.53"/><circle cx="248.30" cy="610.30" r="43.33" stroke-width="0.50"/><circle cx="248.30" cy="610.30" r="45.61" stroke-width="0.50"/><circle cx="248.30" cy="610.30" r="47.76" stroke-width="0.50"/><circle cx="248.30" cy="610.30" r="49.78" stroke-width="0.50"/><circle cx="248.30" cy="610.30" r="51.78" stroke-width="0.50"/><circle cx="248.30" cy="610.30" r="53.78" stroke-width="0.50"/><circle cx="248.30" cy="610.30" r="55.78" stroke-width="0.50"/><circle cx="248.30" cy="610.30" r="57.78" stroke-width="0.50"/><circle cx="248.30" cy="610.30" r="59.78" stroke-width="0.50"/><circle cx="248.30" cy="610.30" r="61.78" stroke-width="0.50"/><circle cx="248.30" cy="610.30" r="63.78" stroke-width="0.50"/><circle cx="248.30" cy="610.30" r="65.78" stroke-width="0.50"/><circle cx="248.30" cy="610.30" r="67.78" stroke-width="0.50"/><circle cx="248.30" cy="610.30" r="69.78" stroke-width="0.50"/></g></mask>
<g clip-path="url(#c10)"><g mask="url(#m10)">
<polygon points="235.0,559.5 243.2,555.9 257.7,555.9 272.3,561.4 285.0,570.5 295.9,583.2 302.3,597.7 303.2,612.3 300.5,623.2 294.1,632.3 288.6,630.5 283.2,621.4 277.7,614.1 272.3,606.8 267.7,600.5 259.5,593.2 255.9,586.8 248.6,581.4 243.2,576.8 237.7,568.6 235.0,563.2" fill="#41049d"/>
<g filter="url(#bl)">
<ellipse cx="296.0" cy="600.0" rx="7.0" ry="22.0" fill="#6a00a8" opacity="0.70"/>
<ellipse cx="272.0" cy="566.0" rx="14.0" ry="7.0" fill="#6a00a8" opacity="0.60"/>
<ellipse cx="298.0" cy="625.0" rx="6.0" ry="8.0" fill="#8f0da4" opacity="0.60"/>
<ellipse cx="265.0" cy="590.0" rx="10.0" ry="10.0" fill="#2a0a92" opacity="0.70"/>
</g>
<rect x="233.0" y="553.9" width="72.2" height="80.4" filter="url(#nzB)"/>
<rect x="233.0" y="553.9" width="72.2" height="80.4" filter="url(#nzP)"/>
<rect x="233.0" y="553.9" width="72.2" height="80.4" filter="url(#nzM)"/>
</g></g>
<path d="M242.80,613.75 C240.92,613.80 239.08,613.77 237.20,614.40 C235.32,615.02 233.11,616.23 231.50,617.50 C229.89,618.77 228.53,620.22 227.55,622.00 C226.57,623.78 226.03,625.84 225.60,628.20 C225.17,630.56 225.00,633.32 224.95,636.15 C224.90,638.98 224.96,642.56 225.30,645.20 C225.64,647.84 226.06,649.83 227.00,652.00 C227.94,654.17 229.25,656.32 230.95,658.20 C232.65,660.08 234.84,661.70 237.20,663.30 C239.56,664.90 242.47,666.52 245.10,667.80 C247.73,669.08 250.55,670.43 253.00,671.00 C255.45,671.57 257.53,671.53 259.80,671.20 C262.07,670.87 264.72,670.32 266.60,669.00 C268.48,667.68 270.12,665.57 271.10,663.30 C272.08,661.03 272.50,658.03 272.50,655.40 C272.50,652.77 271.90,650.05 271.10,647.50 C270.30,644.95 269.02,642.47 267.70,640.10 C266.38,637.73 264.42,635.28 263.20,633.30 C261.98,631.32 261.25,629.98 260.40,628.20 C259.55,626.42 259.15,624.38 258.10,622.60 C257.05,620.82 255.70,618.92 254.10,617.50 C252.50,616.08 250.38,614.72 248.50,614.10 C246.62,613.47 244.68,613.70 242.80,613.75Z" fill="none" stroke="#000" stroke-width="1.85"/>
<text class="tt" x="248.30" y="528.70">jup.8016.01</text>
<text class="tt" x="248.30" y="543.40">2017-03-18 11:26 UT</text>
<g class="grid"><circle cx="420.30" cy="610.30" r="8.70"/><circle cx="420.30" cy="610.30" r="17.43"/><circle cx="420.30" cy="610.30" r="26.22"/><circle cx="420.30" cy="610.30" r="35.12"/><circle cx="420.30" cy="610.30" r="44.16"/><circle cx="420.30" cy="610.30" r="53.37"/><circle cx="420.30" cy="610.30" r="62.80"/><line x1="420.30" y1="610.30" x2="420.30" y2="547.50"/><line x1="420.30" y1="610.30" x2="474.69" y2="578.90"/><line x1="420.30" y1="610.30" x2="474.69" y2="641.70"/><line x1="420.30" y1="610.30" x2="420.30" y2="673.10"/><line x1="420.30" y1="610.30" x2="365.91" y2="641.70"/><line x1="420.30" y1="610.30" x2="365.91" y2="578.90"/></g>
<circle cx="420.30" cy="610.30" r="0.9" fill="#333"/>
<g class="lab">
<text x="420.30" y="562.20" text-anchor="middle">60</text>
<text x="420.30" y="579.10" text-anchor="middle">70</text>
<text x="420.30" y="596.20" text-anchor="middle">80</text>
<text x="477.80" y="579.00" text-anchor="start">60</text>
<text x="475.20" y="651.40" text-anchor="start">120</text>
<text x="365.40" y="651.40" text-anchor="end">240</text>
<text x="362.80" y="579.00" text-anchor="end">320</text>
</g>
<clipPath id="c11"><path d="M446.1,604.5A26.4,26.4 0 0 1 437.2,630.6L435.2,628.2A23.3,23.3 0 0 0 443.0,605.2ZM447.4,598.7A29.5,29.5 0 0 1 434.7,636.1L433.2,633.3A26.4,26.4 0 0 0 444.6,599.9ZM449.4,595.7A32.6,32.6 0 0 1 434.4,639.7L433.1,636.9A29.5,29.5 0 0 0 446.7,597.0ZM451.0,592.4A35.5,35.5 0 0 1 433.7,643.2L432.6,640.5A32.6,32.6 0 0 0 448.5,593.9ZM452.2,589.0A38.3,38.3 0 0 1 430.3,647.3L429.6,644.6A35.5,35.5 0 0 0 449.9,590.6ZM452.9,585.6A40.9,40.9 0 0 1 428.6,650.3L428.1,647.8A38.3,38.3 0 0 0 450.8,587.1ZM454.8,584.1A43.3,43.3 0 0 1 426.5,653.2L426.1,650.8A40.9,40.9 0 0 0 452.9,585.6ZM454.9,580.6A45.6,45.6 0 0 1 424.0,655.8L423.9,653.5A43.3,43.3 0 0 0 453.1,582.0ZM456.5,579.2A47.8,47.8 0 0 1 421.3,658.1L421.3,655.9A45.6,45.6 0 0 0 454.9,580.6ZM458.0,577.8A49.8,49.8 0 0 1 421.3,660.1L421.3,658.1A47.8,47.8 0 0 0 456.5,579.2ZM459.6,576.5A51.8,51.8 0 0 1 421.4,662.1L421.3,660.1A49.8,49.8 0 0 0 458.0,577.8ZM463.1,577.8A53.8,53.8 0 0 1 443.6,658.8L442.8,657.0A51.8,51.8 0 0 0 461.5,579.0ZM472.8,591.5A55.8,55.8 0 0 1 474.7,598.0L472.8,598.5A53.8,53.8 0 0 0 470.9,592.2ZM475.8,604.8A55.8,55.8 0 0 1 453.2,655.3L452.1,653.7A53.8,53.8 0 0 0 473.8,605.0ZM473.8,632.2A57.8,57.8 0 0 1 464.7,647.3L463.2,646.0A55.8,55.8 0 0 0 471.9,631.5Z"/></clipPath>
<mask id="m11" maskUnits="userSpaceOnUse" x="420.0" y="574.5" width="57.3" height="88.8"><rect x="420.0" y="574.5" width="57.3" height="88.8" fill="#fff"/><g fill="none" stroke="#181818"><circle cx="420.30" cy="610.30" r="14.00" stroke-width="1.20"/><circle cx="420.30" cy="610.30" r="17.10" stroke-width="1.20"/><circle cx="420.30" cy="610.30" r="20.20" stroke-width="1.20"/><circle cx="420.30" cy="610.30" r="23.30" stroke-width="1.20"/><circle cx="420.30" cy="610.30" r="26.40" stroke-width="1.20"/><circle cx="420.30" cy="610.30" r="29.50" stroke-width="1.20"/><circle cx="420.30" cy="610.30" r="32.60" stroke-width="1.04"/><circle cx="420.30" cy="610.30" r="35.54" stroke-width="0.86"/><circle cx="420.30" cy="610.30" r="38.30" stroke-width="0.69"/><circle cx="420.30" cy="610.30" r="40.90" stroke-width="0.53"/><circle cx="420.30" cy="610.30" r="43.33" stroke-width="0.50"/><circle cx="420.30" cy="610.30" r="45.61" stroke-width="0.50"/><circle cx="420.30" cy="610.30" r="47.76" stroke-width="0.50"/><circle cx="420.30" cy="610.30" r="49.78" stroke-width="0.50"/><circle cx="420.30" cy="610.30" r="51.78" stroke-width="0.50"/><circle cx="420.30" cy="610.30" r="53.78" stroke-width="0.50"/><circle cx="420.30" cy="610.30" r="55.78" stroke-width="0.50"/><circle cx="420.30" cy="610.30" r="57.78" stroke-width="0.50"/><circle cx="420.30" cy="610.30" r="59.78" stroke-width="0.50"/><circle cx="420.30" cy="610.30" r="61.78" stroke-width="0.50"/><circle cx="420.30" cy="610.30" r="63.78" stroke-width="0.50"/><circle cx="420.30" cy="610.30" r="65.78" stroke-width="0.50"/><circle cx="420.30" cy="610.30" r="67.78" stroke-width="0.50"/><circle cx="420.30" cy="610.30" r="69.78" stroke-width="0.50"/></g></mask>
<g clip-path="url(#c11)"><g mask="url(#m11)">
<polygon points="456.7,576.5 460.7,576.5 468.0,584.5 472.9,594.2 475.3,607.2 475.3,620.1 472.9,633.0 468.0,642.7 459.9,650.8 450.2,655.6 437.3,659.7 422.8,661.3 422.0,657.2 427.6,650.8 433.3,641.1 434.9,631.4 437.3,626.5 442.2,615.2 443.8,605.5 448.6,594.2 453.5,582.9" fill="#6a00a8"/>
<g filter="url(#bl)">
<ellipse cx="470.0" cy="600.0" rx="8.0" ry="26.0" fill="#2a0a92" opacity="1.00"/>
<ellipse cx="463.0" cy="585.0" rx="6.0" ry="10.0" fill="#2a0a92" opacity="0.80"/>
<ellipse cx="462.0" cy="630.0" rx="9.0" ry="10.0" fill="#6a00a8" opacity="0.60"/>
<ellipse cx="452.0" cy="646.0" rx="11.0" ry="9.0" fill="#b12a90" opacity="0.80"/>
</g>
<rect x="420.0" y="574.5" width="57.3" height="88.8" filter="url(#nzB)"/>
<g filter="url(#bl)">
<ellipse cx="442.0" cy="648.0" rx="8.0" ry="9.0" fill="#d9506e" opacity="0.85"/>
<ellipse cx="430.0" cy="654.0" rx="8.0" ry="7.0" fill="#fca636" opacity="1.00"/>
<ellipse cx="434.0" cy="641.0" rx="6.0" ry="10.0" fill="#f6e52c" opacity="1.00"/>
<ellipse cx="434.0" cy="637.0" rx="4.0" ry="6.0" fill="#f0f921" opacity="1.00"/>
</g>
</g></g>
<path d="M414.80,613.75 C412.92,613.80 411.08,613.77 409.20,614.40 C407.32,615.02 405.11,616.23 403.50,617.50 C401.89,618.77 400.53,620.22 399.55,622.00 C398.57,623.78 398.03,625.84 397.60,628.20 C397.17,630.56 397.00,633.32 396.95,636.15 C396.90,638.98 396.96,642.56 397.30,645.20 C397.64,647.84 398.06,649.83 399.00,652.00 C399.94,654.17 401.25,656.32 402.95,658.20 C404.65,660.08 406.84,661.70 409.20,663.30 C411.56,664.90 414.47,666.52 417.10,667.80 C419.73,669.08 422.55,670.43 425.00,671.00 C427.45,671.57 429.53,671.53 431.80,671.20 C434.07,670.87 436.72,670.32 438.60,669.00 C440.48,667.68 442.12,665.57 443.10,663.30 C444.08,661.03 444.50,658.03 444.50,655.40 C444.50,652.77 443.90,650.05 443.10,647.50 C442.30,644.95 441.02,642.47 439.70,640.10 C438.38,637.73 436.42,635.28 435.20,633.30 C433.98,631.32 433.25,629.98 432.40,628.20 C431.55,626.42 431.15,624.38 430.10,622.60 C429.05,620.82 427.70,618.92 426.10,617.50 C424.50,616.08 422.38,614.72 420.50,614.10 C418.62,613.47 416.68,613.70 414.80,613.75Z" fill="none" stroke="#000" stroke-width="1.85"/>
<text class="tt" x="420.30" y="528.70">jup.9000.01</text>
<text class="tt" x="420.30" y="543.40">2017-03-19 08:58 UT</text>
<g class="grid"><circle cx="76.10" cy="783.30" r="8.70"/><circle cx="76.10" cy="783.30" r="17.43"/><circle cx="76.10" cy="783.30" r="26.22"/><circle cx="76.10" cy="783.30" r="35.12"/><circle cx="76.10" cy="783.30" r="44.16"/><circle cx="76.10" cy="783.30" r="53.37"/><circle cx="76.10" cy="783.30" r="62.80"/><line x1="76.10" y1="783.30" x2="76.10" y2="720.50"/><line x1="76.10" y1="783.30" x2="130.49" y2="751.90"/><line x1="76.10" y1="783.30" x2="130.49" y2="814.70"/><line x1="76.10" y1="783.30" x2="76.10" y2="846.10"/><line x1="76.10" y1="783.30" x2="21.71" y2="814.70"/><line x1="76.10" y1="783.30" x2="21.71" y2="751.90"/></g>
<circle cx="76.10" cy="783.30" r="0.9" fill="#333"/>
<g class="lab">
<text x="76.10" y="735.20" text-anchor="middle">60</text>
<text x="76.10" y="752.10" text-anchor="middle">70</text>
<text x="76.10" y="769.20" text-anchor="middle">80</text>
<text x="133.40" y="755.40" text-anchor="start">60</text>
<text x="131.70" y="827.00" text-anchor="start">120</text>
<text x="20.50" y="827.00" text-anchor="end">240</text>
<text x="18.80" y="755.40" text-anchor="end">320</text>
</g>
<clipPath id="c12"><path d="M99.3,785.8A23.3,23.3 0 0 1 93.7,798.6L91.3,796.6A20.2,20.2 0 0 0 96.2,785.4ZM102.2,779.7A26.4,26.4 0 0 1 92.5,804.0L90.6,801.6A23.3,23.3 0 0 0 99.2,780.1ZM104.6,775.7A29.5,29.5 0 0 1 89.9,809.4L88.5,806.6A26.4,26.4 0 0 0 101.6,776.5ZM106.3,771.1A32.6,32.6 0 0 1 87.7,813.8L86.6,810.9A29.5,29.5 0 0 0 103.5,772.3ZM107.2,766.1A35.5,35.5 0 0 1 84.6,817.8L83.9,814.9A32.6,32.6 0 0 0 104.6,767.5ZM108.4,762.8A38.3,38.3 0 0 1 83.0,821.0L82.5,818.3A35.5,35.5 0 0 0 106.1,764.3ZM110.6,761.4A40.9,40.9 0 0 1 81.0,823.9L80.7,821.3A38.3,38.3 0 0 0 108.4,762.8ZM111.2,757.9A43.3,43.3 0 0 1 78.7,826.6L78.5,824.1A40.9,40.9 0 0 0 109.2,759.3ZM111.3,754.3A45.6,45.6 0 0 1 76.0,828.9L76.0,826.6A43.3,43.3 0 0 0 109.6,755.8ZM113.0,753.0A47.8,47.8 0 0 1 76.0,831.1L76.0,828.9A45.6,45.6 0 0 0 111.3,754.3ZM114.6,751.7A49.8,49.8 0 0 1 73.0,833.0L73.1,831.0A47.8,47.8 0 0 0 113.0,753.0ZM114.0,748.1A51.8,51.8 0 0 1 72.8,835.0L73.0,833.0A49.8,49.8 0 0 0 112.6,749.4ZM117.7,749.2A53.8,53.8 0 0 1 123.2,757.3L121.4,758.3A51.8,51.8 0 0 0 116.1,750.4ZM124.7,760.2A53.8,53.8 0 0 1 82.6,836.7L82.3,834.7A51.8,51.8 0 0 0 122.9,761.1ZM131.9,782.4A55.8,55.8 0 0 1 96.0,835.4L95.3,833.5A53.8,53.8 0 0 0 129.9,782.5ZM132.4,796.4A57.8,57.8 0 0 1 106.2,832.6L105.2,830.9A55.8,55.8 0 0 0 130.4,795.9ZM129.3,810.5A59.8,59.8 0 0 1 116.0,827.8L114.7,826.3A57.8,57.8 0 0 0 127.5,809.6Z"/></clipPath>
<mask id="m12" maskUnits="userSpaceOnUse" x="71.2" y="746.6" width="62.2" height="91.3"><rect x="71.2" y="746.6" width="62.2" height="91.3" fill="#fff"/><g fill="none" stroke="#181818"><circle cx="76.10" cy="783.30" r="14.00" stroke-width="1.20"/><circle cx="76.10" cy="783.30" r="17.10" stroke-width="1.20"/><circle cx="76.10" cy="783.30" r="20.20" stroke-width="1.20"/><circle cx="76.10" cy="783.30" r="23.30" stroke-width="1.20"/><circle cx="76.10" cy="783.30" r="26.40" stroke-width="1.20"/><circle cx="76.10" cy="783.30" r="29.50" stroke-width="1.20"/><circle cx="76.10" cy="783.30" r="32.60" stroke-width="1.04"/><circle cx="76.10" cy="783.30" r="35.54" stroke-width="0.86"/><circle cx="76.10" cy="783.30" r="38.30" stroke-width="0.69"/><circle cx="76.10" cy="783.30" r="40.90" stroke-width="0.53"/><circle cx="76.10" cy="783.30" r="43.33" stroke-width="0.50"/><circle cx="76.10" cy="783.30" r="45.61" stroke-width="0.50"/><circle cx="76.10" cy="783.30" r="47.76" stroke-width="0.50"/><circle cx="76.10" cy="783.30" r="49.78" stroke-width="0.50"/><circle cx="76.10" cy="783.30" r="51.78" stroke-width="0.50"/><circle cx="76.10" cy="783.30" r="53.78" stroke-width="0.50"/><circle cx="76.10" cy="783.30" r="55.78" stroke-width="0.50"/><circle cx="76.10" cy="783.30" r="57.78" stroke-width="0.50"/><circle cx="76.10" cy="783.30" r="59.78" stroke-width="0.50"/><circle cx="76.10" cy="783.30" r="61.78" stroke-width="0.50"/><circle cx="76.10" cy="783.30" r="63.78" stroke-width="0.50"/><circle cx="76.10" cy="783.30" r="65.78" stroke-width="0.50"/><circle cx="76.10" cy="783.30" r="67.78" stroke-width="0.50"/><circle cx="76.10" cy="783.30" r="69.78" stroke-width="0.50"/></g></mask>
<g clip-path="url(#c12)"><g mask="url(#m12)">
<polygon points="115.0,748.6 117.0,748.6 122.3,757.7 127.7,768.6 131.4,783.2 131.4,797.7 128.6,810.5 122.3,821.4 113.2,828.6 100.5,834.1 84.1,835.9 73.2,834.1 75.0,830.5 82.3,821.4 89.5,808.6 92.3,799.5 94.1,792.3 97.7,785.9 101.4,779.5 104.1,772.3 109.5,759.5 114.1,749.5" fill="#4a08a0"/>
<g filter="url(#bl)">
<ellipse cx="127.0" cy="780.0" rx="9.0" ry="28.0" fill="#2a0a92" opacity="1.00"/>
<ellipse cx="118.0" cy="762.0" rx="6.0" ry="10.0" fill="#2a0a92" opacity="0.90"/>
<ellipse cx="120.0" cy="808.0" rx="10.0" ry="14.0" fill="#8f0da4" opacity="0.80"/>
<ellipse cx="108.0" cy="825.0" rx="14.0" ry="9.0" fill="#b12a90" opacity="0.85"/>
</g>
<rect x="71.2" y="746.6" width="62.2" height="91.3" filter="url(#nzB)"/>
<g filter="url(#bl)">
<ellipse cx="99.0" cy="818.0" rx="8.0" ry="12.0" fill="#d9506e" opacity="0.85"/>
<ellipse cx="79.0" cy="831.0" rx="8.0" ry="5.0" fill="#f2844b" opacity="1.00"/>
<ellipse cx="87.0" cy="822.0" rx="10.0" ry="12.0" fill="#fca636" opacity="1.00"/>
<ellipse cx="91.0" cy="814.0" rx="9.0" ry="14.0" fill="#f6e52c" opacity="1.00"/>
<ellipse cx="93.0" cy="806.0" rx="6.0" ry="8.0" fill="#f0f921" opacity="1.00"/>
</g>
</g></g>
<path d="M70.60,786.75 C68.72,786.80 66.88,786.77 65.00,787.40 C63.12,788.02 60.91,789.23 59.30,790.50 C57.69,791.77 56.33,793.22 55.35,795.00 C54.37,796.78 53.83,798.84 53.40,801.20 C52.97,803.56 52.80,806.32 52.75,809.15 C52.70,811.98 52.76,815.56 53.10,818.20 C53.44,820.84 53.86,822.83 54.80,825.00 C55.74,827.17 57.05,829.32 58.75,831.20 C60.45,833.08 62.64,834.70 65.00,836.30 C67.36,837.90 70.27,839.52 72.90,840.80 C75.53,842.08 78.35,843.43 80.80,844.00 C83.25,844.57 85.33,844.53 87.60,844.20 C89.87,843.87 92.52,843.32 94.40,842.00 C96.28,840.68 97.92,838.57 98.90,836.30 C99.88,834.03 100.30,831.03 100.30,828.40 C100.30,825.77 99.70,823.05 98.90,820.50 C98.10,817.95 96.82,815.47 95.50,813.10 C94.18,810.73 92.22,808.28 91.00,806.30 C89.78,804.32 89.05,802.98 88.20,801.20 C87.35,799.42 86.95,797.38 85.90,795.60 C84.85,793.82 83.50,791.92 81.90,790.50 C80.30,789.08 78.18,787.72 76.30,787.10 C74.42,786.47 72.48,786.70 70.60,786.75Z" fill="none" stroke="#000" stroke-width="1.85"/>
<text class="tt" x="76.10" y="701.70">jup.9000.02</text>
<text class="tt" x="76.10" y="716.40">2017-03-19 08:58 UT</text>
<g class="grid"><circle cx="248.30" cy="783.30" r="8.70"/><circle cx="248.30" cy="783.30" r="17.43"/><circle cx="248.30" cy="783.30" r="26.22"/><circle cx="248.30" cy="783.30" r="35.12"/><circle cx="248.30" cy="783.30" r="44.16"/><circle cx="248.30" cy="783.30" r="53.37"/><circle cx="248.30" cy="783.30" r="62.80"/><line x1="248.30" y1="783.30" x2="248.30" y2="720.50"/><line x1="248.30" y1="783.30" x2="302.69" y2="751.90"/><line x1="248.30" y1="783.30" x2="302.69" y2="814.70"/><line x1="248.30" y1="783.30" x2="248.30" y2="846.10"/><line x1="248.30" y1="783.30" x2="193.91" y2="814.70"/><line x1="248.30" y1="783.30" x2="193.91" y2="751.90"/></g>
<circle cx="248.30" cy="783.30" r="0.9" fill="#333"/>
<g class="lab">
<text x="248.30" y="735.20" text-anchor="middle">60</text>
<text x="248.30" y="752.10" text-anchor="middle">70</text>
<text x="248.30" y="769.20" text-anchor="middle">80</text>
<text x="305.60" y="755.40" text-anchor="start">60</text>
<text x="303.90" y="827.00" text-anchor="start">120</text>
<text x="192.70" y="827.00" text-anchor="end">240</text>
<text x="191.00" y="755.40" text-anchor="end">320</text>
</g>
<clipPath id="c13"><path d="M260.0,803.5A23.3,23.3 0 0 1 240.8,805.3L241.8,802.4A20.2,20.2 0 0 0 258.4,800.8ZM265.5,803.3A26.4,26.4 0 0 1 234.0,805.5L235.6,802.9A23.3,23.3 0 0 0 263.5,801.0ZM271.3,801.8A29.5,29.5 0 0 1 229.4,805.9L231.4,803.6A26.4,26.4 0 0 0 268.8,799.9ZM274.9,802.2A32.6,32.6 0 0 1 224.5,805.6L226.8,803.5A29.5,29.5 0 0 0 272.3,800.4ZM279.6,800.2A35.5,35.5 0 0 1 220.9,806.0L223.2,804.1A32.6,32.6 0 0 0 277.0,798.8ZM283.0,799.4A38.3,38.3 0 0 1 217.4,805.9L219.6,804.2A35.5,35.5 0 0 0 280.5,798.3ZM285.4,800.5A40.9,40.9 0 0 1 215.3,807.4L217.4,805.9A38.3,38.3 0 0 0 283.0,799.4ZM288.6,799.1A43.3,43.3 0 0 1 211.8,806.6L213.8,805.3A40.9,40.9 0 0 0 286.4,798.2ZM290.8,799.9A45.6,45.6 0 0 1 209.9,807.9L211.8,806.6A43.3,43.3 0 0 0 288.6,799.1ZM293.7,798.0A47.8,47.8 0 0 1 208.1,809.0L209.9,807.9A45.6,45.6 0 0 0 291.7,797.3ZM295.7,798.6A49.8,49.8 0 0 1 206.4,810.1L208.1,809.0A47.8,47.8 0 0 0 293.7,798.0ZM296.5,802.2A51.8,51.8 0 0 1 204.7,811.2L206.4,810.1A49.8,49.8 0 0 0 294.6,801.5ZM260.0,835.8A53.8,53.8 0 0 1 209.0,820.0L210.5,818.7A51.8,51.8 0 0 0 259.6,833.8Z"/></clipPath>
<mask id="m13" maskUnits="userSpaceOnUse" x="203.1" y="796.5" width="95.9" height="43.0"><rect x="203.1" y="796.5" width="95.9" height="43.0" fill="#fff"/><g fill="none" stroke="#181818"><circle cx="248.30" cy="783.30" r="14.00" stroke-width="1.20"/><circle cx="248.30" cy="783.30" r="17.10" stroke-width="1.20"/><circle cx="248.30" cy="783.30" r="20.20" stroke-width="1.20"/><circle cx="248.30" cy="783.30" r="23.30" stroke-width="1.20"/><circle cx="248.30" cy="783.30" r="26.40" stroke-width="1.20"/><circle cx="248.30" cy="783.30" r="29.50" stroke-width="1.20"/><circle cx="248.30" cy="783.30" r="32.60" stroke-width="1.04"/><circle cx="248.30" cy="783.30" r="35.54" stroke-width="0.86"/><circle cx="248.30" cy="783.30" r="38.30" stroke-width="0.69"/><circle cx="248.30" cy="783.30" r="40.90" stroke-width="0.53"/><circle cx="248.30" cy="783.30" r="43.33" stroke-width="0.39"/><circle cx="248.30" cy="783.30" r="45.61" stroke-width="0.35"/><circle cx="248.30" cy="783.30" r="47.76" stroke-width="0.35"/><circle cx="248.30" cy="783.30" r="49.78" stroke-width="0.35"/><circle cx="248.30" cy="783.30" r="51.78" stroke-width="0.35"/><circle cx="248.30" cy="783.30" r="53.78" stroke-width="0.35"/><circle cx="248.30" cy="783.30" r="55.78" stroke-width="0.35"/><circle cx="248.30" cy="783.30" r="57.78" stroke-width="0.35"/><circle cx="248.30" cy="783.30" r="59.78" stroke-width="0.35"/><circle cx="248.30" cy="783.30" r="61.78" stroke-width="0.35"/><circle cx="248.30" cy="783.30" r="63.78" stroke-width="0.35"/><circle cx="248.30" cy="783.30" r="65.78" stroke-width="0.35"/><circle cx="248.30" cy="783.30" r="67.78" stroke-width="0.35"/><circle cx="248.30" cy="783.30" r="69.78" stroke-width="0.35"/></g></mask>
<g clip-path="url(#c13)"><g mask="url(#m13)">
<polygon points="205.1,809.2 212.1,807.2 224.2,805.2 234.3,804.5 240.4,804.1 252.5,803.1 264.6,801.7 276.8,800.1 288.9,798.5 295.0,799.1 297.0,802.1 290.9,812.2 282.8,822.3 270.7,830.4 258.6,835.5 246.5,837.5 234.3,836.1 222.2,831.4 212.1,823.3 206.1,814.2" fill="#8f0da4"/>
<g filter="url(#bl)">
<ellipse cx="292.0" cy="806.0" rx="8.0" ry="9.0" fill="#41049d" opacity="0.85"/>
<ellipse cx="212.0" cy="822.0" rx="9.0" ry="10.0" fill="#41049d" opacity="0.60"/>
<ellipse cx="232.0" cy="834.0" rx="12.0" ry="4.0" fill="#6a00a8" opacity="0.60"/>
<ellipse cx="270.0" cy="832.0" rx="10.0" ry="4.0" fill="#6a00a8" opacity="0.60"/>
<ellipse cx="250.0" cy="818.0" rx="34.0" ry="16.0" fill="#b12a90" opacity="0.85"/>
</g>
<rect x="203.1" y="796.5" width="95.9" height="43.0" filter="url(#nzB)"/>
<rect x="203.1" y="796.5" width="95.9" height="43.0" filter="url(#nzM)"/>
<g filter="url(#bl)">
<ellipse cx="250.0" cy="813.0" rx="26.0" ry="10.0" fill="#d9506e" opacity="0.90"/>
<ellipse cx="251.0" cy="827.0" rx="13.0" ry="11.0" fill="#f2844b" opacity="0.95"/>
<ellipse cx="250.0" cy="818.0" rx="17.0" ry="11.0" fill="#fca636" opacity="1.00"/>
<ellipse cx="250.0" cy="812.0" rx="15.0" ry="8.0" fill="#f6e52c" opacity="1.00"/>
<ellipse cx="251.0" cy="808.0" rx="11.0" ry="4.0" fill="#f0f921" opacity="1.00"/>
</g>
</g></g>
<path d="M242.80,786.75 C240.92,786.80 239.08,786.77 237.20,787.40 C235.32,788.02 233.11,789.23 231.50,790.50 C229.89,791.77 228.53,793.22 227.55,795.00 C226.57,796.78 226.03,798.84 225.60,801.20 C225.17,803.56 225.00,806.32 224.95,809.15 C224.90,811.98 224.96,815.56 225.30,818.20 C225.64,820.84 226.06,822.83 227.00,825.00 C227.94,827.17 229.25,829.32 230.95,831.20 C232.65,833.08 234.84,834.70 237.20,836.30 C239.56,837.90 242.47,839.52 245.10,840.80 C247.73,842.08 250.55,843.43 253.00,844.00 C255.45,844.57 257.53,844.53 259.80,844.20 C262.07,843.87 264.72,843.32 266.60,842.00 C268.48,840.68 270.12,838.57 271.10,836.30 C272.08,834.03 272.50,831.03 272.50,828.40 C272.50,825.77 271.90,823.05 271.10,820.50 C270.30,817.95 269.02,815.47 267.70,813.10 C266.38,810.73 264.42,808.28 263.20,806.30 C261.98,804.32 261.25,802.98 260.40,801.20 C259.55,799.42 259.15,797.38 258.10,795.60 C257.05,793.82 255.70,791.92 254.10,790.50 C252.50,789.08 250.38,787.72 248.50,787.10 C246.62,786.47 244.68,786.70 242.80,786.75Z" fill="none" stroke="#000" stroke-width="1.85"/>
<text class="tt" x="248.30" y="701.70">jup.9011.01</text>
<text class="tt" x="248.30" y="716.40">2017-03-19 10:40 UT</text>
<g class="grid"><circle cx="420.30" cy="783.30" r="8.70"/><circle cx="420.30" cy="783.30" r="17.43"/><circle cx="420.30" cy="783.30" r="26.22"/><circle cx="420.30" cy="783.30" r="35.12"/><circle cx="420.30" cy="783.30" r="44.16"/><circle cx="420.30" cy="783.30" r="53.37"/><circle cx="420.30" cy="783.30" r="62.80"/><line x1="420.30" y1="783.30" x2="420.30" y2="720.50"/><line x1="420.30" y1="783.30" x2="474.69" y2="751.90"/><line x1="420.30" y1="783.30" x2="474.69" y2="814.70"/><line x1="420.30" y1="783.30" x2="420.30" y2="846.10"/><line x1="420.30" y1="783.30" x2="365.91" y2="814.70"/><line x1="420.30" y1="783.30" x2="365.91" y2="751.90"/></g>
<circle cx="420.30" cy="783.30" r="0.9" fill="#333"/>
<g class="lab">
<text x="420.30" y="735.20" text-anchor="middle">60</text>
<text x="420.30" y="752.10" text-anchor="middle">70</text>
<text x="420.30" y="769.20" text-anchor="middle">80</text>
<text x="477.60" y="755.40" text-anchor="start">60</text>
<text x="475.90" y="827.00" text-anchor="start">120</text>
<text x="364.70" y="827.00" text-anchor="end">240</text>
<text x="363.00" y="755.40" text-anchor="end">320</text>
</g>
<clipPath id="c14"><path d="M431.5,803.7A23.3,23.3 0 0 1 413.6,805.6L414.5,802.6A20.2,20.2 0 0 0 430.0,801.0ZM438.2,802.7A26.4,26.4 0 0 1 406.8,806.0L408.4,803.3A23.3,23.3 0 0 0 436.1,800.4ZM442.8,802.3A29.5,29.5 0 0 1 400.9,805.5L402.9,803.2A26.4,26.4 0 0 0 440.5,800.3ZM447.6,801.2A32.6,32.6 0 0 1 397.4,806.5L399.5,804.3A29.5,29.5 0 0 0 445.0,799.5ZM451.2,800.9A35.5,35.5 0 0 1 393.8,807.0L396.0,805.0A32.6,32.6 0 0 0 448.6,799.5ZM454.7,800.2A38.3,38.3 0 0 1 390.2,807.0L392.4,805.3A35.5,35.5 0 0 0 452.2,799.0ZM458.0,799.1A40.9,40.9 0 0 1 386.7,806.6L388.8,805.2A38.3,38.3 0 0 0 455.6,798.1ZM460.3,800.0A43.3,43.3 0 0 1 384.7,808.0L386.7,806.6A40.9,40.9 0 0 0 458.0,799.1ZM463.4,798.3A45.6,45.6 0 0 1 381.3,807.0L383.3,805.8A43.3,43.3 0 0 0 461.2,797.5ZM465.4,799.0A47.8,47.8 0 0 1 379.5,808.1L381.3,807.0A45.6,45.6 0 0 0 463.4,798.3ZM467.3,799.7A49.8,49.8 0 0 1 377.8,809.2L379.5,808.1A47.8,47.8 0 0 0 465.4,799.0ZM469.2,800.3A51.8,51.8 0 0 1 376.1,810.2L377.8,809.2A49.8,49.8 0 0 0 467.3,799.7ZM434.0,835.3A53.8,53.8 0 0 1 380.2,819.1L381.7,817.8A51.8,51.8 0 0 0 433.5,833.4Z"/></clipPath>
<mask id="m14" maskUnits="userSpaceOnUse" x="375.1" y="796.5" width="95.9" height="43.0"><rect x="375.1" y="796.5" width="95.9" height="43.0" fill="#fff"/><g fill="none" stroke="#181818"><circle cx="420.30" cy="783.30" r="14.00" stroke-width="1.20"/><circle cx="420.30" cy="783.30" r="17.10" stroke-width="1.20"/><circle cx="420.30" cy="783.30" r="20.20" stroke-width="1.20"/><circle cx="420.30" cy="783.30" r="23.30" stroke-width="1.20"/><circle cx="420.30" cy="783.30" r="26.40" stroke-width="1.20"/><circle cx="420.30" cy="783.30" r="29.50" stroke-width="1.20"/><circle cx="420.30" cy="783.30" r="32.60" stroke-width="1.04"/><circle cx="420.30" cy="783.30" r="35.54" stroke-width="0.86"/><circle cx="420.30" cy="783.30" r="38.30" stroke-width="0.69"/><circle cx="420.30" cy="783.30" r="40.90" stroke-width="0.53"/><circle cx="420.30" cy="783.30" r="43.33" stroke-width="0.39"/><circle cx="420.30" cy="783.30" r="45.61" stroke-width="0.35"/><circle cx="420.30" cy="783.30" r="47.76" stroke-width="0.35"/><circle cx="420.30" cy="783.30" r="49.78" stroke-width="0.35"/><circle cx="420.30" cy="783.30" r="51.78" stroke-width="0.35"/><circle cx="420.30" cy="783.30" r="53.78" stroke-width="0.35"/><circle cx="420.30" cy="783.30" r="55.78" stroke-width="0.35"/><circle cx="420.30" cy="783.30" r="57.78" stroke-width="0.35"/><circle cx="420.30" cy="783.30" r="59.78" stroke-width="0.35"/><circle cx="420.30" cy="783.30" r="61.78" stroke-width="0.35"/><circle cx="420.30" cy="783.30" r="63.78" stroke-width="0.35"/><circle cx="420.30" cy="783.30" r="65.78" stroke-width="0.35"/><circle cx="420.30" cy="783.30" r="67.78" stroke-width="0.35"/><circle cx="420.30" cy="783.30" r="69.78" stroke-width="0.35"/></g></mask>
<g clip-path="url(#c14)"><g mask="url(#m14)">
<polygon points="377.1,809.2 384.1,807.2 396.2,805.2 406.3,804.5 412.4,804.1 424.5,803.1 436.6,801.7 448.8,800.1 460.9,798.5 467.0,799.1 469.0,802.1 462.9,812.2 454.8,822.3 442.7,830.4 430.6,835.5 418.5,837.5 406.3,836.1 394.2,831.4 384.1,823.3 378.1,814.2" fill="#8f0da4"/>
<g filter="url(#bl)">
<ellipse cx="464.0" cy="806.0" rx="8.0" ry="9.0" fill="#41049d" opacity="0.85"/>
<ellipse cx="384.0" cy="822.0" rx="9.0" ry="10.0" fill="#41049d" opacity="0.60"/>
<ellipse cx="404.0" cy="834.0" rx="12.0" ry="4.0" fill="#6a00a8" opacity="0.60"/>
<ellipse cx="442.0" cy="832.0" rx="10.0" ry="4.0" fill="#6a00a8" opacity="0.60"/>
<ellipse cx="422.0" cy="818.0" rx="34.0" ry="16.0" fill="#b12a90" opacity="0.85"/>
</g>
<rect x="375.1" y="796.5" width="95.9" height="43.0" filter="url(#nzB)"/>
<rect x="375.1" y="796.5" width="95.9" height="43.0" filter="url(#nzM)"/>
<g filter="url(#bl)">
<ellipse cx="422.0" cy="813.0" rx="26.0" ry="10.0" fill="#d9506e" opacity="0.90"/>
<ellipse cx="423.0" cy="827.0" rx="13.0" ry="11.0" fill="#f2844b" opacity="0.95"/>
<ellipse cx="422.0" cy="818.0" rx="17.0" ry="11.0" fill="#fca636" opacity="1.00"/>
<ellipse cx="422.0" cy="812.0" rx="15.0" ry="8.0" fill="#f6e52c" opacity="1.00"/>
<ellipse cx="423.0" cy="808.0" rx="11.0" ry="4.0" fill="#f0f921" opacity="1.00"/>
</g>
</g></g>
<path d="M414.80,786.75 C412.92,786.80 411.08,786.77 409.20,787.40 C407.32,788.02 405.11,789.23 403.50,790.50 C401.89,791.77 400.53,793.22 399.55,795.00 C398.57,796.78 398.03,798.84 397.60,801.20 C397.17,803.56 397.00,806.32 396.95,809.15 C396.90,811.98 396.96,815.56 397.30,818.20 C397.64,820.84 398.06,822.83 399.00,825.00 C399.94,827.17 401.25,829.32 402.95,831.20 C404.65,833.08 406.84,834.70 409.20,836.30 C411.56,837.90 414.47,839.52 417.10,840.80 C419.73,842.08 422.55,843.43 425.00,844.00 C427.45,844.57 429.53,844.53 431.80,844.20 C434.07,843.87 436.72,843.32 438.60,842.00 C440.48,840.68 442.12,838.57 443.10,836.30 C444.08,834.03 444.50,831.03 444.50,828.40 C444.50,825.77 443.90,823.05 443.10,820.50 C442.30,817.95 441.02,815.47 439.70,813.10 C438.38,810.73 436.42,808.28 435.20,806.30 C433.98,804.32 433.25,802.98 432.40,801.20 C431.55,799.42 431.15,797.38 430.10,795.60 C429.05,793.82 427.70,791.92 426.10,790.50 C424.50,789.08 422.38,787.72 420.50,787.10 C418.62,786.47 416.68,786.70 414.80,786.75Z" fill="none" stroke="#000" stroke-width="1.85"/>
<text class="tt" x="420.30" y="701.70">jup.9011.02</text>
<text class="tt" x="420.30" y="716.40">2017-03-19 10:40 UT</text>
<linearGradient id="pl" x1="0" x2="1" y1="0" y2="0"><stop offset="0.00" stop-color="#0d0887"/><stop offset="0.10" stop-color="#41049d"/><stop offset="0.20" stop-color="#6a00a8"/><stop offset="0.30" stop-color="#8f0da4"/><stop offset="0.40" stop-color="#b12a90"/><stop offset="0.50" stop-color="#cc4778"/><stop offset="0.60" stop-color="#e16462"/><stop offset="0.70" stop-color="#f2844b"/><stop offset="0.80" stop-color="#fca636"/><stop offset="0.90" stop-color="#fcce25"/><stop offset="1.00" stop-color="#f0f921"/></linearGradient>
<rect x="35.0" y="864.7" width="426.4" height="9.8" fill="url(#pl)" stroke="#222" stroke-width="0.5"/>
<path d="M77.64,874.50v-1.6M77.64,864.70v1.6M120.28,874.50v-1.6M120.28,864.70v1.6M162.92,874.50v-1.6M162.92,864.70v1.6M205.56,874.50v-1.6M205.56,864.70v1.6M248.20,874.50v-1.6M248.20,864.70v1.6M290.84,874.50v-1.6M290.84,864.70v1.6M333.48,874.50v-1.6M333.48,864.70v1.6M376.12,874.50v-1.6M376.12,864.70v1.6M418.76,874.50v-1.6M418.76,864.70v1.6" stroke="#333" stroke-width="0.6" fill="none"/>
<text class="cbl" x="35.00" y="886.2">10</text>
<text class="cbl" x="120.28" y="886.2">21</text>
<text class="cbl" x="205.56" y="886.2">32</text>
<text class="cbl" x="290.84" y="886.2">43</text>
<text class="cbl" x="376.12" y="886.2">54</text>
<text class="cbl" x="461.40" y="886.2">65</text>
<text class="cbt" x="248.5" y="907.8">Radiance (nW cm<tspan dy="-5" font-size="9">-2</tspan><tspan dy="5"> sr</tspan><tspan dy="-5" font-size="9">-1</tspan><tspan dy="5"> cm)</tspan></text>
</svg></body></html>
